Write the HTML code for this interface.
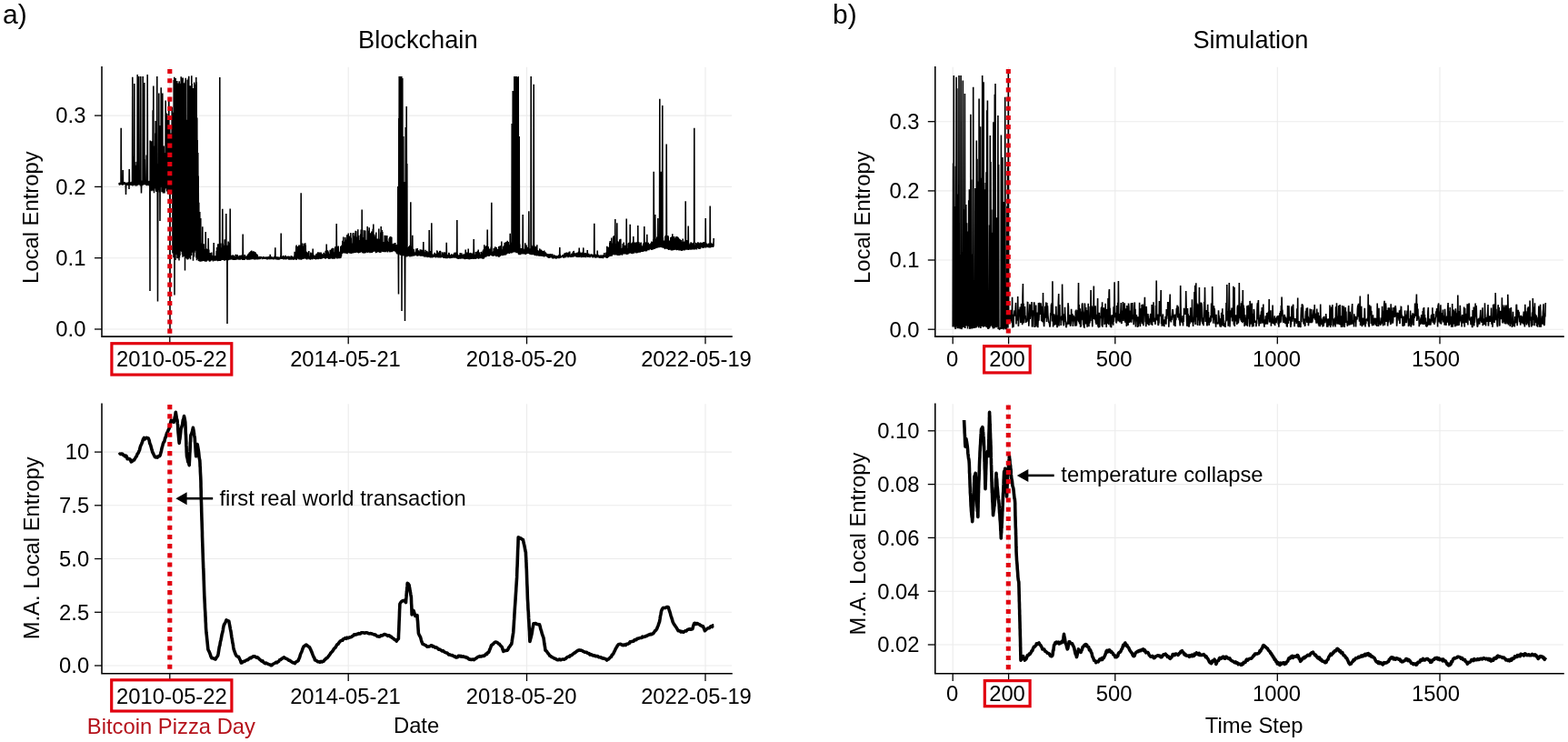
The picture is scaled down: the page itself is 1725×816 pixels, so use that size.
<!DOCTYPE html>
<html><head><meta charset="utf-8"><title>Local Entropy: Blockchain vs Simulation</title>
<style>html,body{margin:0;padding:0;background:#fff;overflow:hidden}svg{display:block}</style>
</head><body>
<svg width="1725" height="816" viewBox="0 0 1725 816" font-family='"Liberation Sans", Arial, Helvetica, sans-serif'>
<rect width="1725" height="816" fill="#fff"/>
<line x1="112.8" y1="362" x2="805" y2="362" stroke="#ebebeb" stroke-width="1.1"/>
<line x1="112.8" y1="283.7" x2="805" y2="283.7" stroke="#ebebeb" stroke-width="1.1"/>
<line x1="112.8" y1="205.4" x2="805" y2="205.4" stroke="#ebebeb" stroke-width="1.1"/>
<line x1="112.8" y1="127.1" x2="805" y2="127.1" stroke="#ebebeb" stroke-width="1.1"/>
<line x1="186.8" y1="73.8" x2="186.8" y2="369.3" stroke="#ebebeb" stroke-width="1.1"/>
<line x1="383.2" y1="73.8" x2="383.2" y2="369.3" stroke="#ebebeb" stroke-width="1.1"/>
<line x1="579.5" y1="73.8" x2="579.5" y2="369.3" stroke="#ebebeb" stroke-width="1.1"/>
<line x1="776" y1="73.8" x2="776" y2="369.3" stroke="#ebebeb" stroke-width="1.1"/>
<line x1="112.8" y1="732" x2="805" y2="732" stroke="#ebebeb" stroke-width="1.1"/>
<line x1="112.8" y1="673.3" x2="805" y2="673.3" stroke="#ebebeb" stroke-width="1.1"/>
<line x1="112.8" y1="614.5" x2="805" y2="614.5" stroke="#ebebeb" stroke-width="1.1"/>
<line x1="112.8" y1="555.8" x2="805" y2="555.8" stroke="#ebebeb" stroke-width="1.1"/>
<line x1="112.8" y1="497.1" x2="805" y2="497.1" stroke="#ebebeb" stroke-width="1.1"/>
<line x1="186.8" y1="444.3" x2="186.8" y2="740" stroke="#ebebeb" stroke-width="1.1"/>
<line x1="383.2" y1="444.3" x2="383.2" y2="740" stroke="#ebebeb" stroke-width="1.1"/>
<line x1="579.5" y1="444.3" x2="579.5" y2="740" stroke="#ebebeb" stroke-width="1.1"/>
<line x1="776" y1="444.3" x2="776" y2="740" stroke="#ebebeb" stroke-width="1.1"/>
<line x1="1029.6" y1="362.2" x2="1720" y2="362.2" stroke="#ebebeb" stroke-width="1.1"/>
<line x1="1029.6" y1="286" x2="1720" y2="286" stroke="#ebebeb" stroke-width="1.1"/>
<line x1="1029.6" y1="209.9" x2="1720" y2="209.9" stroke="#ebebeb" stroke-width="1.1"/>
<line x1="1029.6" y1="133.7" x2="1720" y2="133.7" stroke="#ebebeb" stroke-width="1.1"/>
<line x1="1048.2" y1="73.8" x2="1048.2" y2="369.3" stroke="#ebebeb" stroke-width="1.1"/>
<line x1="1109.6" y1="73.8" x2="1109.6" y2="369.3" stroke="#ebebeb" stroke-width="1.1"/>
<line x1="1226.8" y1="73.8" x2="1226.8" y2="369.3" stroke="#ebebeb" stroke-width="1.1"/>
<line x1="1405.3" y1="73.8" x2="1405.3" y2="369.3" stroke="#ebebeb" stroke-width="1.1"/>
<line x1="1584" y1="73.8" x2="1584" y2="369.3" stroke="#ebebeb" stroke-width="1.1"/>
<line x1="1029.6" y1="709" x2="1720" y2="709" stroke="#ebebeb" stroke-width="1.1"/>
<line x1="1029.6" y1="650.2" x2="1720" y2="650.2" stroke="#ebebeb" stroke-width="1.1"/>
<line x1="1029.6" y1="591.4" x2="1720" y2="591.4" stroke="#ebebeb" stroke-width="1.1"/>
<line x1="1029.6" y1="532.6" x2="1720" y2="532.6" stroke="#ebebeb" stroke-width="1.1"/>
<line x1="1029.6" y1="473.8" x2="1720" y2="473.8" stroke="#ebebeb" stroke-width="1.1"/>
<line x1="1048.2" y1="444.3" x2="1048.2" y2="740" stroke="#ebebeb" stroke-width="1.1"/>
<line x1="1109.6" y1="444.3" x2="1109.6" y2="740" stroke="#ebebeb" stroke-width="1.1"/>
<line x1="1226.8" y1="444.3" x2="1226.8" y2="740" stroke="#ebebeb" stroke-width="1.1"/>
<line x1="1405.3" y1="444.3" x2="1405.3" y2="740" stroke="#ebebeb" stroke-width="1.1"/>
<line x1="1584" y1="444.3" x2="1584" y2="740" stroke="#ebebeb" stroke-width="1.1"/>
<polyline fill="none" stroke="#000" stroke-width="1.55" stroke-linejoin="miter" stroke-miterlimit="2" points="131,202.9 131.2,201.1 131.5,203.7 131.8,200.9 132,203 132.2,201.2 132.5,202.5 132.8,201 133,203.2 133.2,140.7 133.5,202.4 133.8,200.6 134,202.3 134.2,201.6 134.5,203.3 134.8,200.1 135,203.8 135.2,187 135.5,203.2 135.8,201.2 136,202.5 136.2,200 136.5,203 136.8,200.1 137,202.5 137.2,200.5 137.5,202.2 137.8,200.9 138,202.9 138.2,201.7 138.5,214 138.8,201.3 139,203 139.2,201.3 139.5,202.9 139.8,200.6 140,203.8 140.2,202 140.5,203.5 140.8,201.4 141,202.7 141.2,200.5 141.5,202.7 141.8,200.1 142,208 142.2,186 142.5,203.6 142.8,200.8 143,203.7 143.2,201.7 143.5,202.2 143.8,200.4 144,203.7 144.2,200.9 144.5,203.8 144.8,200.8 145,202.2 145.2,199.6 145.5,202.7 145.8,84.8 146,204.4 146.2,198.2 146.5,202.6 146.8,171.8 147,204 147.2,186.8 147.5,203.1 147.8,91.9 148,202.3 148.2,198.2 148.5,203.1 148.8,178.1 149,204.4 149.2,198.6 149.5,204.2 149.8,181.8 150,204.1 150.2,198.2 150.5,204.5 150.8,177.7 151,203.9 151.2,82.1 151.5,202.2 151.8,187.5 152,202.6 152.2,198.7 152.5,203.1 152.8,83.9 153,203.4 153.2,198.4 153.5,202.4 153.8,199.6 154,202.6 154.2,192.2 154.5,204.4 154.8,83.9 155,204.2 155.2,198.8 155.5,212.6 155.8,198.9 156,202.6 156.2,198.5 156.5,204.1 156.8,198.6 157,202.4 157.2,83.9 157.5,202.6 157.8,199.7 158,203.5 158.2,197.5 158.5,202.5 158.8,91 159,203.1 159.2,175.3 159.5,202.9 159.8,198.3 160,202.9 160.2,200 160.5,203.6 160.8,199.2 161,202.4 161.2,170.5 161.5,204.3 161.8,199.9 162,202.1 162.2,82.1 162.5,203.8 162.8,200 163,202.2 163.2,199.5 163.5,204.3 163.8,199.4 164,204 164.2,198.7 164.5,203.7 164.8,199.7 165,319.9 165.2,154.5 165.5,208.7 165.8,177.2 166,208.8 166.2,163.6 166.5,209.4 166.8,155.2 167,210.3 167.2,193.1 167.5,208.8 167.8,197.7 168,203.8 168.2,121.2 168.5,209 168.8,94.5 169,210 169.2,187.7 169.5,212.2 169.8,160.5 170,206 170.2,169.1 170.5,204.7 170.8,146.4 171,207.4 171.2,133.1 171.5,209.7 171.8,179.4 172,211.1 172.2,155.2 172.5,206.8 172.8,83.9 173,204.4 173.2,197.7 173.5,331.5 173.8,202.8 174,205.8 174.2,180.3 174.5,205.8 174.8,102.5 175,209.3 175.2,174.2 175.5,211.4 175.8,138.1 176,243 176.2,199.3 176.5,203.4 176.8,185.7 177,206.1 177.2,96.3 177.5,204.4 177.8,161.1 178,211.3 178.2,166.3 178.5,203.5 178.8,102.5 179,209.3 179.2,196.3 179.5,212.6 179.8,169 180,207.8 180.2,160.5 180.5,207.7 180.8,168.1 181,212.6 181.2,191.4 181.5,208.2 181.8,194 182,206.9 182.2,110.5 182.5,203.9 182.8,148.9 183,206.2 183.2,124.5 183.5,210.6 183.8,154.1 184,208.4 184.2,132 184.5,212.9 184.8,146.8 185,213.5 185.2,125.1 185.5,210.9 185.8,108.3 186,211.5 186.2,148.2 186.5,210.8 186.8,141.6 187,364 187.2,153.5 187.5,213.8 187.8,158.5 188,209.8 188.2,146.4 188.5,207.9 188.8,154.1 189,212.7 189.2,117.7 189.5,205.7 189.8,123.7 190,278.5 190.2,129.2 190.5,268.5 190.8,166.4 191,283.2 191.2,88 191.5,283 191.8,84.7 192,324.5 192.2,150.4 192.5,281.1 192.8,209.3 193,286 193.2,86 193.5,278 193.8,95.1 194,280.1 194.2,97.2 194.5,278.6 194.8,88.9 195,284.1 195.2,180.8 195.5,284.2 195.8,212.4 196,278.9 196.2,91.6 196.5,277.6 196.8,101.7 197,286.4 197.2,89.2 197.5,283.2 197.8,129.5 198,281.1 198.2,91.7 198.5,275.9 198.8,252.3 199,273.1 199.2,84.3 199.5,276.2 199.8,250.1 200,277.1 200.2,85.4 200.5,279.7 200.8,172.9 201,282.8 201.2,85.5 201.5,272.3 201.8,119.3 202,274.8 202.2,106.3 202.5,281.9 202.8,91.2 203,272.8 203.2,91.5 203.5,297.5 203.8,89.4 204,278.1 204.2,85.7 204.5,280 204.8,131.8 205,284.2 205.2,151.4 205.5,272.4 205.8,148.6 206,285.2 206.2,87.7 206.5,285.5 206.8,100 207,284.9 207.2,86.3 207.5,281.8 207.8,83.7 208,283.8 208.2,96.2 208.5,270.4 208.8,94.3 209,268.3 209.2,94.3 209.5,285.3 209.8,171.5 210,277.6 210.2,130.2 210.5,281 210.8,83.3 211,270 211.2,91.9 211.5,277.8 211.8,108.8 212,271.5 212.2,97.1 212.5,286.8 212.8,169.5 213,269.2 213.2,206.2 213.5,282.5 213.8,90.4 214,277.8 214.2,92.8 214.5,268.3 214.8,150.7 215,271.4 215.2,95.3 215.5,275.7 215.8,85 216,283.6 216.2,90.3 216.5,286.3 216.8,129.4 217,284.9 217.2,153.9 217.5,284.4 217.8,168.1 218,284.2 218.2,193.4 218.5,286.9 218.8,222.8 219,286.5 219.2,263.4 219.5,287.5 219.8,233 220,287.6 220.2,273.1 220.5,287.7 220.8,240 221,287.3 221.2,267.6 221.5,287.5 221.8,274.1 222,287.4 222.2,282.5 222.5,286.6 222.8,249.2 223,285.9 223.2,275.9 223.5,287.1 223.8,271.9 224,286.3 224.2,268.3 224.5,287.2 224.8,277.1 225,287.1 225.2,273.9 225.5,286.9 225.8,276.9 226,287.8 226.2,255 226.5,287.2 226.8,272.9 227,287.7 227.2,285.1 227.5,287 227.8,274.1 228,286.2 228.2,278.3 228.5,285.8 228.8,281.4 229,286.4 229.2,262 229.5,286.2 229.8,274.6 230,286.8 230.2,278.5 230.5,287.6 230.8,278.3 231,287.6 231.2,278.1 231.5,287.2 231.8,284.4 232,286.8 232.2,278.1 232.5,285.7 232.8,277.6 233,285.9 233.2,280.9 233.5,285.9 233.8,281.1 234,286.8 234.2,285.1 234.5,287.4 234.8,282.3 235,286.6 235.2,267 235.5,286.2 235.8,283.4 236,286.7 236.2,281.9 236.5,286 236.8,281.2 237,286 237.2,285.9 237.5,285.8 237.8,284.9 238,285.6 238.2,275.9 238.5,286 238.8,272 239,286.7 239.2,283.2 239.5,287.2 239.8,268.2 240,285.3 240.2,268.2 240.5,286 240.8,273.7 241,287 241.2,277.6 241.5,286.1 241.8,85 242,286.5 242.2,273 242.5,287 242.8,267.4 243,286.2 243.2,280.1 243.5,286.2 243.8,272.3 244,285.3 244.2,282.1 244.5,285.9 244.8,229.7 245,285.7 245.2,267.8 245.5,285.7 245.8,275.3 246,285.9 246.2,271.7 246.5,286.3 246.8,269.7 247,286.7 247.2,263.3 247.5,286.1 247.8,276.1 248,284.9 248.2,264.8 248.5,286.2 248.8,235 249,285.3 249.2,275.7 249.5,285.9 249.8,270.5 250,355.9 250.2,269.7 250.5,286 250.8,277.9 251,285 251.2,265.6 251.5,286.3 251.8,267.1 252,284.5 252.2,281.8 252.5,285 252.8,275.9 253,285.7 253.2,229.4 253.5,285.5 253.8,283.5 254,284.6 254.2,280.9 254.5,285.5 254.8,281.1 255,285.1 255.2,281.7 255.5,284.8 255.8,282.4 256,285.8 256.2,280.3 256.5,284.5 256.8,283.8 257,285.9 257.2,281.1 257.5,285.8 257.8,283.1 258,285.1 258.2,282.8 258.5,285.9 258.8,282.2 259,285.6 259.2,279.7 259.5,284.9 259.8,281.4 260,285.7 260.2,280 260.5,285.1 260.8,282.2 261,284.4 261.2,280.1 261.5,284.4 261.8,284 262,285.3 262.2,281.6 262.5,285.5 262.8,282.5 263,285.7 263.2,284 263.5,284.6 263.8,280.9 264,284.3 264.2,282.5 264.5,285.6 264.8,280.8 265,284.7 265.2,283.4 265.5,284.8 265.8,280.6 266,284.8 266.2,283.6 266.5,285.5 266.8,281.2 267,285.9 267.2,257.6 267.5,285.9 267.8,281.8 268,285.6 268.2,282.4 268.5,284.6 268.8,281.9 269,285.9 269.2,280 269.5,284.5 269.8,282.1 270,284.7 270.2,282.1 270.5,284.7 270.8,282 271,284.3 271.2,281.2 271.5,285.5 271.8,281.3 272,285.6 272.2,281.2 272.5,284.3 272.8,279.5 273,285.7 273.2,281.4 273.5,283.9 273.8,279 274,285 274.2,277.8 274.5,285.8 274.8,277.2 275,285.4 275.2,282.9 275.5,284.9 275.8,276.3 276,284 276.2,282.6 276.5,285.3 276.8,275.6 277,284 277.2,277.3 277.5,284.1 277.8,276.6 278,285.1 278.2,280.6 278.5,284.2 278.8,276.4 279,284.8 279.2,276.4 279.5,284.5 279.8,279.7 280,285.6 280.2,277.1 280.5,284.7 280.8,278 281,285.1 281.2,277.5 281.5,285.5 281.8,280.1 282,285.3 282.2,279.4 282.5,285.3 282.8,279.7 283,285.3 283.2,280.3 283.5,285.5 283.8,281.9 284,284.6 284.2,282.6 284.5,285.2 284.8,283.1 285,284.5 285.2,283.8 285.5,285.1 285.8,282.1 286,284.4 286.2,283.8 286.5,284 286.8,283.1 287,284.2 287.2,282.1 287.5,283.8 287.8,283.4 288,283.9 288.2,282.7 288.5,285.2 288.8,283.7 289,283.8 289.2,283.1 289.5,284.8 289.8,282.2 290,283.7 290.2,284 290.5,284 290.8,283.6 291,284.1 291.2,282.6 291.5,284.9 291.8,283.6 292,284.1 292.2,283.5 292.5,284 292.8,282.5 293,284.3 293.2,282.9 293.5,285.3 293.8,283 294,284.2 294.2,282.3 294.5,285.5 294.8,283.3 295,284.8 295.2,282.2 295.5,284.7 295.8,283.7 296,283.8 296.2,282.2 296.5,285.3 296.8,283.2 297,284.8 297.2,279.7 297.5,284.3 297.8,282.1 298,285.1 298.2,283.6 298.5,283.8 298.8,283.1 299,284.5 299.2,282.4 299.5,285.2 299.8,282.8 300,284.1 300.2,283.9 300.5,284.4 300.8,283.5 301,285.5 301.2,282.9 301.5,285.1 301.8,281.9 302,284.3 302.2,282.8 302.5,284.1 302.8,272.3 303,283.8 303.2,282.1 303.5,285.5 303.8,282.1 304,284 304.2,283.4 304.5,285.2 304.8,284 305,284.8 305.2,282.8 305.5,285.7 305.8,282.4 306,285.5 306.2,283.2 306.5,285.4 306.8,282.8 307,285.7 307.2,284 307.5,285.5 307.8,283.5 308,284.9 308.2,282.5 308.5,284.2 308.8,281.7 309,284.5 309.2,256.4 309.5,284 309.8,283.1 310,284.8 310.2,281.8 310.5,284.6 310.8,281.9 311,284.1 311.2,282.7 311.5,284.8 311.8,281.1 312,285.5 312.2,281.9 312.5,283.9 312.8,282.7 313,285.3 313.2,283.2 313.5,285 313.8,282.4 314,283.9 314.2,280.8 314.5,285.5 314.8,283.3 315,285.2 315.2,282.9 315.5,284.7 315.8,282 316,284.5 316.2,282.7 316.5,284.7 316.8,281.5 317,284.5 317.2,283.3 317.5,285.4 317.8,282.7 318,285.8 318.2,281.8 318.5,285.4 318.8,282.6 319,285.6 319.2,283.9 319.5,284.2 319.8,283.8 320,285.3 320.2,281.2 320.5,284.3 320.8,282.2 321,285.7 321.2,281.5 321.5,284.2 321.8,283 322,284.3 322.2,283.6 322.5,284.8 322.8,284 323,285.8 323.2,282 323.5,285 323.8,281.1 324,285.5 324.2,276.7 324.5,284.7 324.8,277.9 325,284.8 325.2,283.5 325.5,284.7 325.8,270.5 326,285.9 326.2,269.4 326.5,285.2 326.8,271.6 327,283.9 327.2,275.7 327.5,284.5 327.8,271.1 328,284.1 328.2,274.9 328.5,284.8 328.8,269.4 329,285.5 329.2,271.6 329.5,284.1 329.8,269.6 330,285.6 330.2,272.4 330.5,284.5 330.8,273 331,284 331.2,212.3 331.5,285.7 331.8,272.8 332,285.2 332.2,268.8 332.5,284.1 332.8,267.6 333,284.9 333.2,278 333.5,283.8 333.8,277.1 334,284.8 334.2,270.4 334.5,284.3 334.8,267.8 335,284.4 335.2,273.5 335.5,283.9 335.8,267.3 336,283.9 336.2,269.6 336.5,284.7 336.8,276.4 337,284.7 337.2,281.3 337.5,285.4 337.8,277.2 338,285.2 338.2,279.1 338.5,283.8 338.8,278 339,284.2 339.2,277.7 339.5,284.1 339.8,276 340,285.3 340.2,281.9 340.5,284.7 340.8,283 341,283.7 341.2,282 341.5,285.6 341.8,277.5 342,284.9 342.2,281 342.5,284.9 342.8,278.4 343,284.4 343.2,279.2 343.5,285.2 343.8,284 344,284 344.2,273.5 344.5,283.9 344.8,280.4 345,284.7 345.2,282 345.5,284.6 345.8,281.3 346,284.7 346.2,280.8 346.5,284.9 346.8,283.6 347,284.9 347.2,282.3 347.5,285.5 347.8,279.2 348,284.5 348.2,280.3 348.5,284.8 348.8,278.7 349,285.1 349.2,278.4 349.5,284.6 349.8,277.2 350,285.3 350.2,277.9 350.5,284.4 350.8,280.1 351,284.7 351.2,277.6 351.5,284.7 351.8,279.6 352,284.5 352.2,277.6 352.5,284.1 352.8,283.2 353,284.8 353.2,277.6 353.5,284.6 353.8,279 354,284.5 354.2,280.7 354.5,284.2 354.8,282.6 355,283.2 355.2,279.6 355.5,284 355.8,279.8 356,283.1 356.2,277.9 356.5,284 356.8,280.7 357,283.6 357.2,279.4 357.5,283.4 357.8,282.3 358,284.8 358.2,275.8 358.5,284.3 358.8,276.1 359,283.8 359.2,268.6 359.5,283.4 359.8,276.4 360,284.1 360.2,275.3 360.5,283.1 360.8,275.8 361,283.2 361.2,277.4 361.5,284.8 361.8,283.8 362,283.4 362.2,279.1 362.5,283.6 362.8,282 363,284.7 363.2,274.8 363.5,283.7 363.8,278.2 364,284.1 364.2,282.2 364.5,283 364.8,273.6 365,283.5 365.2,276.5 365.5,284.8 365.8,272.7 366,283.8 366.2,279.4 366.5,283.5 366.8,272.7 367,284.7 367.2,279.4 367.5,284.5 367.8,277.3 368,283.8 368.2,279.6 368.5,284.6 368.8,271.3 369,283.3 369.2,274.2 369.5,283.2 369.8,271.8 370,282.9 370.2,246 370.5,284.3 370.8,277.2 371,284.6 371.2,271.3 371.5,284.3 371.8,279.7 372,284.2 372.2,270.4 372.5,283.7 372.8,280.7 373,283.3 373.2,276.7 373.5,284.2 373.8,278.3 374,283.2 374.2,277.6 374.5,284.1 374.8,270.8 375,283.5 375.2,271.9 375.5,281.9 375.8,269.8 376,277.9 376.2,270.7 376.5,279.2 376.8,264.8 377,277.9 377.2,264.8 377.5,277.5 377.8,260.4 378,278.2 378.2,265.7 378.5,278.4 378.8,275.4 379,278.5 379.2,269.2 379.5,277.8 379.8,261 380,277.4 380.2,268.8 380.5,278.8 380.8,269.4 381,277.8 381.2,263.6 381.5,277.6 381.8,258.2 382,279.2 382.2,275.4 382.5,278.1 382.8,259.5 383,277.9 383.2,256.6 383.5,278.2 383.8,269.9 384,278.2 384.2,260.2 384.5,277.8 384.8,259.6 385,278.7 385.2,261.8 385.5,278.1 385.8,256 386,278.4 386.2,261.5 386.5,279 386.8,269.4 387,278.6 387.2,269.6 387.5,278.2 387.8,267.5 388,277.9 388.2,256.4 388.5,278.6 388.8,255.9 389,277.4 389.2,261.3 389.5,277.4 389.8,259.4 390,277.9 390.2,274.5 390.5,278.1 390.8,256.6 391,278.1 391.2,253.7 391.5,277.3 391.8,269.4 392,276.9 392.2,260.4 392.5,277.7 392.8,261.5 393,277.4 393.2,254.3 393.5,277 393.8,252.2 394,277.9 394.2,258.9 394.5,278.4 394.8,266.2 395,277.1 395.2,264.1 395.5,276.8 395.8,263.9 396,278 396.2,258.7 396.5,277.3 396.8,257.2 397,276.9 397.2,252.5 397.5,277 397.8,265.1 398,277 398.2,230.6 398.5,278.3 398.8,252.8 399,276.8 399.2,260.9 399.5,277.4 399.8,266.2 400,278.6 400.2,273.3 400.5,277.6 400.8,253.3 401,278.6 401.2,268.6 401.5,277.5 401.8,253.6 402,276.6 402.2,265.4 402.5,278.3 402.8,268.7 403,277.3 403.2,263.7 403.5,277.3 403.8,271.4 404,276.6 404.2,249.1 404.5,278 404.8,253.8 405,276.9 405.2,265 405.5,277.5 405.8,265.3 406,277.3 406.2,250.2 406.5,277.1 406.8,262.6 407,278.3 407.2,256.3 407.5,276.4 407.8,260.9 408,277.7 408.2,272.2 408.5,277 408.8,254.6 409,278 409.2,256.7 409.5,278.1 409.8,259.5 410,277.1 410.2,251.8 410.5,277 410.8,246.6 411,276.7 411.2,262.4 411.5,276.6 411.8,257.7 412,276.5 412.2,266.5 412.5,276.6 412.8,259.7 413,276.8 413.2,260.2 413.5,278.2 413.8,255.4 414,277.9 414.2,266.6 414.5,276.9 414.8,271.5 415,277.5 415.2,262.4 415.5,276.7 415.8,274.6 416,276.5 416.2,265.1 416.5,276.9 416.8,251.6 417,277.5 417.2,265 417.5,276.8 417.8,268.4 418,277.9 418.2,262.8 418.5,277.5 418.8,255.4 419,277.8 419.2,249 419.5,276.6 419.8,262.3 420,276.1 420.2,253 420.5,276.6 420.8,254.9 421,277 421.2,272.4 421.5,276.7 421.8,266.1 422,276 422.2,268.7 422.5,277.1 422.8,273.7 423,276.5 423.2,258.8 423.5,276.9 423.8,269.7 424,277.2 424.2,266.5 424.5,277.3 424.8,259 425,276.1 425.2,268.2 425.5,276.3 425.8,259.1 426,276.6 426.2,264.8 426.5,277.5 426.8,268.3 427,276.3 427.2,266.1 427.5,276.1 427.8,273.9 428,275.7 428.2,262.3 428.5,276.8 428.8,260.4 429,277.6 429.2,268 429.5,277 429.8,260.1 430,276.1 430.2,263.1 430.5,276.9 430.8,260.7 431,277.3 431.2,270 431.5,276.8 431.8,273 432,276.4 432.2,268.2 432.5,275.7 432.8,268.6 433,276.2 433.2,267.6 433.5,276.1 433.8,272.2 434,276.3 434.2,268.4 434.5,276.3 434.8,267 435,276.8 435.2,274.3 435.5,277.4 435.8,270.2 436,277.5 436.2,268.9 436.5,279 436.8,269.6 437,279.4 437.2,277.7 437.5,278.9 437.8,205 438,278.4 438.2,271.7 438.5,323.6 438.8,130 439,279.7 439.2,83.9 439.5,279.3 439.8,273.9 440,278.8 440.2,84 440.5,280.7 440.8,270.5 441,279.5 441.2,90 441.5,279.5 441.8,83.9 442,342 442.2,267.3 442.5,280.1 442.8,86 443,281.4 443.2,269 443.5,280.9 443.8,150 444,280.6 444.2,272.7 444.5,280.4 444.8,200 445,281.7 445.2,273.3 445.5,353 445.8,279.2 446,280.5 446.2,140 446.5,281 446.8,273.9 447,282.4 447.2,116.9 447.5,281 447.8,180 448,282.1 448.2,275.9 448.5,280.8 448.8,272.1 449,281.5 449.2,275.9 449.5,281.7 449.8,271.1 450,281.7 450.2,271.4 450.5,281.7 450.8,269.7 451,282.5 451.2,274.8 451.5,281.2 451.8,222.3 452,281.1 452.2,271.4 452.5,281.8 452.8,271.9 453,282.3 453.2,271 453.5,280.7 453.8,258.8 454,281.3 454.2,273.5 454.5,281 454.8,276.2 455,281.7 455.2,274.1 455.5,280.6 455.8,276.8 456,280.8 456.2,277.7 456.5,281.1 456.8,278.3 457,280.2 457.2,279.2 457.5,280.2 457.8,273.6 458,280.2 458.2,275.4 458.5,281.5 458.8,275.3 459,280.2 459.2,273 459.5,281.6 459.8,279.4 460,280.3 460.2,275.3 460.5,281.3 460.8,276.2 461,281.1 461.2,277.3 461.5,281.2 461.8,276.9 462,280.5 462.2,274.4 462.5,281.6 462.8,274.2 463,281.2 463.2,276.6 463.5,281.5 463.8,275.5 464,281.8 464.2,274.8 464.5,280.5 464.8,277.2 465,281.7 465.2,278.4 465.5,280.8 465.8,266.1 466,281.7 466.2,274.7 466.5,282.5 466.8,279.5 467,282 467.2,277.4 467.5,282 467.8,277.6 468,282.7 468.2,274.7 468.5,281 468.8,276 469,281.2 469.2,280.9 469.5,281.6 469.8,276 470,283.1 470.2,280 470.5,281.8 470.8,281.3 471,282.3 471.2,277.4 471.5,282.1 471.8,278.6 472,282.9 472.2,253.1 472.5,281.9 472.8,278.1 473,282.6 473.2,276 473.5,283.4 473.8,278.2 474,282.8 474.2,277.3 474.5,283.1 474.8,245.3 475,281.8 475.2,280.5 475.5,283.4 475.8,279.3 476,282.5 476.2,280.5 476.5,282.2 476.8,281.9 477,282.7 477.2,280.3 477.5,282.8 477.8,279.2 478,282.1 478.2,277.9 478.5,282.4 478.8,279.4 479,281.8 479.2,281.3 479.5,283.5 479.8,279.1 480,281.9 480.2,280.1 480.5,282.7 480.8,275.4 481,282.2 481.2,276.1 481.5,282.8 481.8,278.5 482,283.4 482.2,278.6 482.5,282 482.8,277.8 483,283.2 483.2,277.4 483.5,282.4 483.8,276 484,283.6 484.2,275.8 484.5,282.8 484.8,276.6 485,283.4 485.2,280.5 485.5,282 485.8,280.6 486,282.2 486.2,281.5 486.5,282.7 486.8,277.2 487,282.7 487.2,278.5 487.5,282.1 487.8,280.4 488,284 488.2,282.6 488.5,283.2 488.8,277.2 489,283.7 489.2,277.6 489.5,283 489.8,277.4 490,283.9 490.2,277.6 490.5,284.2 490.8,281.6 491,284.1 491.2,266.7 491.5,283.7 491.8,280.5 492,284.1 492.2,282.6 492.5,283.5 492.8,280.7 493,283.1 493.2,279.9 493.5,283.7 493.8,277.8 494,283.1 494.2,278.6 494.5,283.1 494.8,280.5 495,284.3 495.2,280.3 495.5,282.7 495.8,280.3 496,284 496.2,281.1 496.5,284 496.8,279.3 497,283.9 497.2,281.4 497.5,282.8 497.8,281.7 498,283.3 498.2,280 498.5,282.7 498.8,279.6 499,283.5 499.2,280.6 499.5,283.8 499.8,277.8 500,283.1 500.2,278 500.5,283.4 500.8,278.6 501,283 501.2,277.6 501.5,283.7 501.8,277.7 502,283.3 502.2,280.2 502.5,284.3 502.8,242.1 503,283.4 503.2,278.9 503.5,284.8 503.8,280.7 504,283.3 504.2,280.5 504.5,284.9 504.8,281.9 505,284.2 505.2,280.4 505.5,284.3 505.8,281.5 506,284.3 506.2,278 506.5,284.8 506.8,279.2 507,284.1 507.2,279.5 507.5,283.3 507.8,278.3 508,284.5 508.2,280.1 508.5,284.5 508.8,280.3 509,284 509.2,281.5 509.5,284.4 509.8,279.5 510,284.3 510.2,283.4 510.5,284.5 510.8,280.2 511,284.5 511.2,279.4 511.5,285.2 511.8,282.2 512,284.3 512.2,274.5 512.5,284.8 512.8,281 513,284.9 513.2,277.6 513.5,284.2 513.8,278.1 514,283.6 514.2,277.5 514.5,284.3 514.8,281.4 515,285 515.2,273.4 515.5,285.2 515.8,278 516,284.9 516.2,279.6 516.5,285.3 516.8,282.9 517,285 517.2,278.4 517.5,283.8 517.8,277.9 518,284.2 518.2,279.2 518.5,285 518.8,281.5 519,283.8 519.2,278.5 519.5,283.4 519.8,279 520,284.8 520.2,279.3 520.5,283.7 520.8,277.5 521,284.9 521.2,263 521.5,284.3 521.8,276.9 522,284.8 522.2,281.7 522.5,283.9 522.8,282.2 523,283.2 523.2,280 523.5,284.9 523.8,277 524,283.3 524.2,281.2 524.5,283.9 524.8,276.8 525,284.3 525.2,276.5 525.5,283.2 525.8,276 526,283.5 526.2,274.5 526.5,284.8 526.8,277.2 527,283.4 527.2,277.5 527.5,283.9 527.8,283.3 528,283.7 528.2,279.8 528.5,284.2 528.8,280.1 529,284.2 529.2,276.9 529.5,283.3 529.8,281.2 530,284.3 530.2,277.6 530.5,283.2 530.8,281 531,284.8 531.2,275.6 531.5,283.6 531.8,279.5 532,284.8 532.2,274 532.5,284.1 532.8,269.3 533,283 533.2,275.8 533.5,282.4 533.8,273 534,282.8 534.2,270.9 534.5,282.5 534.8,274.4 535,282.5 535.2,270.1 535.5,282 535.8,272.2 536,281.5 536.2,252.6 536.5,281.4 536.8,271 537,281.2 537.2,271.2 537.5,281.8 537.8,274.5 538,282 538.2,275.1 538.5,281.4 538.8,273.4 539,280.6 539.2,278.8 539.5,280.6 539.8,276.2 540,280.7 540.2,271.4 540.5,280.4 540.8,222.8 541,281.2 541.2,276.8 541.5,280.8 541.8,278.2 542,281.8 542.2,276.9 542.5,280.9 542.8,276.2 543,281.7 543.2,272.8 543.5,281.3 543.8,274.9 544,280.4 544.2,272.8 544.5,280.4 544.8,271.3 545,281.1 545.2,273.8 545.5,281.7 545.8,276.4 546,282.2 546.2,272 546.5,280.5 546.8,273.9 547,281.5 547.2,276 547.5,281.5 547.8,276.4 548,282 548.2,273.7 548.5,282.6 548.8,270.9 549,282.7 549.2,275.3 549.5,282.4 549.8,272.9 550,282.1 550.2,270.2 550.5,280.7 550.8,274.2 551,281.2 551.2,272.3 551.5,280.7 551.8,265.6 552,280.5 552.2,274.6 552.5,280.2 552.8,274.2 553,281.3 553.2,278.1 553.5,280 553.8,271.4 554,280.7 554.2,270.5 554.5,279.8 554.8,269.7 555,280.7 555.2,266.7 555.5,279.3 555.8,271.7 556,278.9 556.2,267.2 556.5,280.6 556.8,266.1 557,278.6 557.2,271.4 557.5,279.5 557.8,268.4 558,278.5 558.2,264.7 558.5,278.8 558.8,267.4 559,278.2 559.2,265.9 559.5,278.1 559.8,274.4 560,278.7 560.2,269.2 560.5,279.1 560.8,270.2 561,278.1 561.2,256.7 561.5,277.5 561.8,266.8 562,278 562.2,266.9 562.5,278.4 562.8,273.3 563,278.2 563.2,136 563.5,278.2 563.8,266.6 564,276.9 564.2,100 564.5,277.6 564.8,262.6 565,276.5 565.2,275.8 565.5,276.1 565.8,84 566,277.5 566.2,265.9 566.5,276.6 566.8,83.9 567,276.5 567.2,273.9 567.5,277.3 567.8,264.9 568,278.3 568.2,83.9 568.5,277.3 568.8,270.6 569,277.6 569.2,85 569.5,277.9 569.8,266.8 570,278.6 570.2,83.9 570.5,279.5 570.8,267.8 571,280.3 571.2,150 571.5,279.7 571.8,268.4 572,279.4 572.2,274 572.5,280.1 572.8,274.6 573,279.3 573.2,273.1 573.5,279.4 573.8,273.9 574,279.3 574.2,273.2 574.5,278.5 574.8,270.3 575,278.5 575.2,235.9 575.5,279.4 575.8,273.5 576,278.7 576.2,276.7 576.5,278.9 576.8,274.2 577,279.1 577.2,275 577.5,279.6 577.8,267.2 578,278 578.2,273.4 578.5,279.9 578.8,278.5 579,279.1 579.2,269.5 579.5,278.6 579.8,271.8 580,278.5 580.2,274.2 580.5,279 580.8,271.9 581,278.4 581.2,272.5 581.5,278.9 581.8,232.2 582,278 582.2,276.6 582.5,278.5 582.8,274.6 583,279.7 583.2,273.2 583.5,279.9 583.8,273.5 584,278.9 584.2,83.9 584.5,278.6 584.8,269.4 585,280.2 585.2,274.3 585.5,279.2 585.8,270.5 586,280.3 586.2,271.7 586.5,278.9 586.8,270.9 587,279 587.2,92.8 587.5,280.1 587.8,269.8 588,280.4 588.2,279 588.5,281.1 588.8,271.2 589,280.5 589.2,279.8 589.5,280.9 589.8,274.4 590,280.9 590.2,270.7 590.5,281.4 590.8,269.3 591,281.3 591.2,275 591.5,281.3 591.8,275.8 592,280.8 592.2,275.6 592.5,280.2 592.8,276.7 593,281.6 593.2,279.4 593.5,280.4 593.8,273.4 594,281.6 594.2,276 594.5,280.6 594.8,279.3 595,281.1 595.2,274.6 595.5,281.7 595.8,275.1 596,281.1 596.2,277.8 596.5,281.9 596.8,276.1 597,281.1 597.2,276.1 597.5,281.9 597.8,281.2 598,281.9 598.2,278.7 598.5,282.5 598.8,275.5 599,282.2 599.2,277.5 599.5,282 599.8,277.3 600,281.6 600.2,277.6 600.5,281.8 600.8,278.4 601,281.9 601.2,279.6 601.5,281.9 601.8,279.7 602,282.8 602.2,279.1 602.5,282.5 602.8,279 603,283.5 603.2,280 603.5,283.1 603.8,279.6 604,283.9 604.2,280.4 604.5,283.4 604.8,281 605,282.6 605.2,279.1 605.5,283.3 605.8,281.1 606,282.4 606.2,279.2 606.5,283.1 606.8,279.6 607,283.3 607.2,280.1 607.5,283.6 607.8,279.2 608,284.4 608.2,280.9 608.5,283.6 608.8,281.9 609,284.3 609.2,282.7 609.5,283.4 609.8,280.2 610,283 610.2,280.7 610.5,284 610.8,281.3 611,283.5 611.2,282.7 611.5,284.7 611.8,281 612,284.3 612.2,282.9 612.5,284.2 612.8,282.4 613,283 613.2,281.4 613.5,283.8 613.8,282.6 614,284 614.2,281.1 614.5,284.2 614.8,280.2 615,283.8 615.2,281.5 615.5,284.2 615.8,271.9 616,282.9 616.2,279.9 616.5,283.7 616.8,281.5 617,282.7 617.2,282.8 617.5,283.2 617.8,281.4 618,282.7 618.2,281.3 618.5,282.3 618.8,280.3 619,282.5 619.2,280.9 619.5,282.5 619.8,280 620,283.6 620.2,281.4 620.5,283.6 620.8,278.6 621,283 621.2,279.5 621.5,283.2 621.8,279.4 622,283 622.2,278 622.5,283.2 622.8,280.4 623,281.7 623.2,277.6 623.5,282.3 623.8,278 624,282 624.2,279.1 624.5,282.2 624.8,277.9 625,283.3 625.2,278.7 625.5,282.5 625.8,279.3 626,281.8 626.2,276.7 626.5,281.5 626.8,276.6 627,282.5 627.2,281 627.5,282.9 627.8,280.6 628,282.2 628.2,280.4 628.5,283 628.8,278.9 629,282.7 629.2,280.8 629.5,282.3 629.8,280.6 630,280.9 630.2,277.2 630.5,282.8 630.8,276.5 631,282.5 631.2,275.9 631.5,281.9 631.8,280.4 632,281.9 632.2,279.5 632.5,281.9 632.8,278.4 633,281.9 633.2,279.5 633.5,282.3 633.8,278.2 634,281.9 634.2,280.6 634.5,281.9 634.8,277.7 635,282.9 635.2,277.8 635.5,281.3 635.8,279.2 636,281.7 636.2,277.4 636.5,282.9 636.8,276.5 637,283 637.2,272.4 637.5,282.8 637.8,276.9 638,281.2 638.2,278.7 638.5,282.3 638.8,278 639,282.4 639.2,278.4 639.5,283.1 639.8,281.1 640,282.3 640.2,277.5 640.5,281.3 640.8,281 641,283 641.2,277.7 641.5,281.4 641.8,272.4 642,283 642.2,278.7 642.5,282.4 642.8,279.1 643,282.9 643.2,278.4 643.5,281.4 643.8,281.5 644,283 644.2,278.1 644.5,283.1 644.8,279.9 645,282.1 645.2,280.2 645.5,281.5 645.8,278.9 646,282.1 646.2,275 646.5,282.6 646.8,280.4 647,282.9 647.2,280 647.5,282.1 647.8,278.9 648,282 648.2,281.3 648.5,282.2 648.8,280.1 649,283.2 649.2,280.7 649.5,282.2 649.8,279.7 650,282.2 650.2,280.2 650.5,282.3 650.8,279.3 651,282.1 651.2,281.2 651.5,282.4 651.8,280.9 652,283.3 652.2,280 652.5,283.4 652.8,280.4 653,282 653.2,279.9 653.5,282.3 653.8,245.8 654,282.7 654.2,279.5 654.5,282.6 654.8,281.1 655,283.7 655.2,279.7 655.5,282.7 655.8,282 656,283.5 656.2,280.2 656.5,282.6 656.8,280.3 657,282.7 657.2,275.5 657.5,283.2 657.8,280.5 658,283 658.2,280.4 658.5,282 658.8,281.1 659,282.8 659.2,282.5 659.5,283.9 659.8,282.2 660,282.5 660.2,280.6 660.5,284 660.8,280.6 661,282.8 661.2,280.7 661.5,282.4 661.8,281.1 662,284 662.2,282.2 662.5,282.4 662.8,280.8 663,283.9 663.2,280.2 663.5,284.1 663.8,280.6 664,282.9 664.2,281.9 664.5,282.8 664.8,278 665,282.4 665.2,281.1 665.5,282.9 665.8,282.2 666,282.9 666.2,280.7 666.5,282.5 666.8,278 667,283.4 667.2,277.4 667.5,283.8 667.8,270.8 668,283.9 668.2,280.6 668.5,282.2 668.8,280.3 669,282.1 669.2,271.7 669.5,283.1 669.8,273.1 670,281.3 670.2,274.4 670.5,281.9 670.8,266.7 671,282.1 671.2,264.9 671.5,281.2 671.8,268 672,281.7 672.2,269 672.5,280.1 672.8,261.4 673,281.6 673.2,278.4 673.5,281.2 673.8,267.6 674,279.7 674.2,272.6 674.5,279.9 674.8,259.7 675,279.9 675.2,278.1 675.5,279.9 675.8,258.9 676,280.4 676.2,261.7 676.5,280.3 676.8,241.1 677,279.4 677.2,269 677.5,279.4 677.8,270.2 678,280.5 678.2,268.1 678.5,280.2 678.8,245.3 679,279.8 679.2,268.8 679.5,280.9 679.8,265.3 680,279.9 680.2,266.3 680.5,280 680.8,270 681,280.9 681.2,272.1 681.5,280.9 681.8,263.2 682,280.7 682.2,273.9 682.5,279.9 682.8,262.7 683,279.4 683.2,274 683.5,280.3 683.8,273 684,280 684.2,274.6 684.5,280.6 684.8,272.6 685,278.9 685.2,268 685.5,279.3 685.8,269.7 686,279.6 686.2,266.6 686.5,279.5 686.8,272 687,278.4 687.2,270.6 687.5,278.9 687.8,269.8 688,279.6 688.2,270.9 688.5,278.4 688.8,270.5 689,279.1 689.2,240.6 689.5,280 689.8,273 690,278.9 690.2,276.1 690.5,279.6 690.8,273.5 691,279.5 691.2,267.6 691.5,278.3 691.8,266.8 692,278.8 692.2,271.1 692.5,278.8 692.8,266.4 693,278.6 693.2,246.8 693.5,278.1 693.8,267.2 694,278.5 694.2,271.9 694.5,277.8 694.8,273.5 695,279 695.2,267.5 695.5,279.2 695.8,266.6 696,278.6 696.2,267.5 696.5,278.5 696.8,259.9 697,278.7 697.2,273.8 697.5,278.6 697.8,272.1 698,277.4 698.2,266.6 698.5,276.9 698.8,269.9 699,277.5 699.2,267.5 699.5,277.9 699.8,266.6 700,278.5 700.2,268.7 700.5,276.7 700.8,268.5 701,276.7 701.2,266.1 701.5,278.2 701.8,247.9 702,276.7 702.2,268.2 702.5,277.8 702.8,266.1 703,277.5 703.2,274 703.5,277.6 703.8,275.1 704,277.8 704.2,267.6 704.5,277.5 704.8,266.9 705,277 705.2,266.4 705.5,277 705.8,269.7 706,276.4 706.2,270.9 706.5,275.5 706.8,273 707,277 707.2,272.1 707.5,276.6 707.8,267.5 708,276.5 708.2,269.3 708.5,275.6 708.8,248.9 709,275.3 709.2,268.3 709.5,276.2 709.8,266.3 710,275.3 710.2,266.4 710.5,276.4 710.8,271 711,276.3 711.2,268.4 711.5,276.2 711.8,257.8 712,274.9 712.2,270.9 712.5,275.1 712.8,269.2 713,274 713.2,266.8 713.5,274.9 713.8,269.2 714,275.2 714.2,270.9 714.5,274 714.8,268.3 715,274 715.2,269.7 715.5,273.5 715.8,272.7 716,274 716.2,267.1 716.5,275 716.8,265.6 717,273.8 717.2,267.2 717.5,273.4 717.8,266 718,274.7 718.2,270.1 718.5,273.5 718.8,262.9 719,274.1 719.2,188.7 719.5,273.7 719.8,259.3 720,274.1 720.2,266.6 720.5,273.2 720.8,235.9 721,273 721.2,267.4 721.5,273.3 721.8,270.1 722,271.9 722.2,262.4 722.5,272 722.8,260.6 723,272.7 723.2,265.1 723.5,272.6 723.8,240 724,272.3 724.2,263.2 724.5,271.6 724.8,268.2 725,271.5 725.2,258.4 725.5,272.2 725.8,108.8 726,270.5 726.2,265.3 726.5,271.9 726.8,263.3 727,271 727.2,188.7 727.5,272 727.8,260.3 728,271.9 728.2,261.2 728.5,272.6 728.8,115.9 729,271.5 729.2,260.7 729.5,271.8 729.8,270 730,272.7 730.2,271.5 730.5,272 730.8,264.4 731,273 731.2,269.2 731.5,274.1 731.8,259.4 732,273.4 732.2,262.2 732.5,273.2 732.8,258.2 733,273 733.2,158.5 733.5,273.4 733.8,259.3 734,274.1 734.2,264.7 734.5,274.1 734.8,259.1 735,273.9 735.2,260.2 735.5,274.9 735.8,264.4 736,274.3 736.2,264.6 736.5,274.4 736.8,266.4 737,274.8 737.2,265.1 737.5,274.2 737.8,260.9 738,274.5 738.2,264.5 738.5,275.4 738.8,264.8 739,274.4 739.2,259.9 739.5,275.6 739.8,257.3 740,274.5 740.2,262.5 740.5,275.2 740.8,267.3 741,275.1 741.2,259.9 741.5,275 741.8,262.8 742,274.6 742.2,263.1 742.5,274.2 742.8,262 743,274.8 743.2,260.2 743.5,274.4 743.8,262.8 744,273.8 744.2,266.2 744.5,275.3 744.8,259.9 745,275 745.2,269 745.5,274.6 745.8,260.7 746,274.2 746.2,261.5 746.5,274 746.8,264.7 747,275.5 747.2,262.4 747.5,274.7 747.8,264.9 748,275.3 748.2,263.3 748.5,275.4 748.8,265.2 749,274.4 749.2,264.1 749.5,275.1 749.8,265.7 750,275.9 750.2,271 750.5,275.5 750.8,268.3 751,275.4 751.2,262.4 751.5,274.5 751.8,265.9 752,274.9 752.2,266.8 752.5,274.2 752.8,265.7 753,275.6 753.2,265.5 753.5,274.3 753.8,264.5 754,274.5 754.2,221.3 754.5,274.8 754.8,267.7 755,274.6 755.2,263.9 755.5,274.7 755.8,264.3 756,274.2 756.2,265.8 756.5,273.6 756.8,269.6 757,274.8 757.2,248.4 757.5,275 757.8,269 758,273.8 758.2,269.3 758.5,274.3 758.8,273.3 759,273.9 759.2,267.5 759.5,273.4 759.8,270 760,274.8 760.2,266.3 760.5,273.5 760.8,271.2 761,273.2 761.2,272.1 761.5,274.5 761.8,267.3 762,273.4 762.2,268.7 762.5,274.2 762.8,272.9 763,274.4 763.2,266.7 763.5,273.1 763.8,140.7 764,274.1 764.2,269.7 764.5,274.4 764.8,270.6 765,273.5 765.2,269.8 765.5,273.4 765.8,266.9 766,273.6 766.2,267.9 766.5,274.4 766.8,270.4 767,272.8 767.2,267.8 767.5,272.6 767.8,266.2 768,272.9 768.2,268.8 768.5,273 768.8,266.8 769,273.9 769.2,267.5 769.5,272.4 769.8,269.3 770,273.4 770.2,270.2 770.5,273.7 770.8,266.5 771,272.3 771.2,269.1 771.5,272.3 771.8,267.2 772,271.8 772.2,267.3 772.5,271.8 772.8,266.7 773,272.7 773.2,267.8 773.5,271.8 773.8,271.6 774,272.2 774.2,266.1 774.5,272.7 774.8,266.5 775,271.5 775.2,270.8 775.5,271.4 775.8,267.2 776,271.6 776.2,240 776.5,272.6 776.8,267.2 777,271.8 777.2,268.3 777.5,271.7 777.8,267.8 778,271.8 778.2,268.8 778.5,271.5 778.8,269.1 779,271.4 779.2,271.4 779.5,271.5 779.8,267.6 780,271.3 780.2,270.2 780.5,272.4 780.8,268.1 781,271.7 781.2,226.5 781.5,272.4 781.8,266.9 782,271.8 782.2,267.2 782.5,271.9 782.8,267.9 783,271.3 783.2,268.4 783.5,271.4 783.8,268 784,271.4 784.2,267.7 784.5,271.9 784.8,266.3 785,270.7 785.2,262"/>
<polyline fill="none" stroke="#000" stroke-width="1.6" stroke-linejoin="miter" stroke-miterlimit="2" points="1048.2,359.4 1048.6,179.4 1048.9,358.8 1049.3,82.9 1049.6,357.9 1050,357 1050.3,360.1 1050.7,227.1 1051.1,362.1 1051.4,182.8 1051.8,358.7 1052.1,84.7 1052.5,359.4 1052.8,97.3 1053.2,361.2 1053.6,322.4 1053.9,360.9 1054.3,213.6 1054.6,361.3 1055,82.9 1055.3,358.1 1055.7,279.9 1056.1,361.5 1056.4,359.7 1056.8,360.4 1057.1,82.9 1057.5,360 1057.8,362 1058.2,360.6 1058.6,277.4 1058.9,360 1059.3,88.5 1059.6,357.9 1060,230.3 1060.3,360.3 1060.7,341.5 1061.1,359 1061.4,103.1 1061.8,361.1 1062.1,235 1062.5,358.1 1062.8,225 1063.2,358.6 1063.6,245.3 1063.9,357.7 1064.3,254.4 1064.6,361.5 1065,289.4 1065.4,359.1 1065.7,220.2 1066.1,358.9 1066.4,208.2 1066.8,361.8 1067.1,360.7 1067.5,358.8 1067.9,125.8 1068.2,361.5 1068.6,197.6 1068.9,360.7 1069.3,336.4 1069.6,361.6 1070,279.5 1070.4,360.5 1070.7,95.7 1071.1,360.8 1071.4,359.2 1071.8,359.6 1072.1,359.2 1072.5,360.8 1072.9,206.9 1073.2,360 1073.6,282.4 1073.9,360.5 1074.3,154.6 1074.6,359.9 1075,174.8 1075.4,358.6 1075.7,199.6 1076.1,358.7 1076.4,203 1076.8,360.5 1077.1,108.6 1077.5,358.7 1077.9,179 1078.2,359.2 1078.6,139.2 1078.9,361.1 1079.3,195.7 1079.6,359.2 1080,218 1080.4,358.8 1080.7,82.9 1081.1,358.2 1081.4,318.5 1081.8,359.8 1082.1,90.2 1082.5,357.9 1082.9,208.2 1083.2,358.9 1083.6,226.2 1083.9,359.2 1084.3,201.1 1084.6,359.3 1085,189.3 1085.4,360.2 1085.7,121.3 1086.1,359.3 1086.4,110.4 1086.8,361.7 1087.1,359.5 1087.5,361.9 1087.9,359.3 1088.2,360.7 1088.6,247.6 1088.9,360.6 1089.3,149 1089.6,358.9 1090,178.1 1090.4,358.3 1090.7,230.5 1091.1,357.8 1091.4,263.1 1091.8,359.9 1092.1,255.8 1092.5,361.6 1092.9,134.3 1093.2,360.1 1093.6,239.6 1093.9,361.3 1094.3,103.8 1094.6,359.2 1095,92 1095.4,359.7 1095.7,336.4 1096.1,360.2 1096.4,239.3 1096.8,359 1097.2,354.9 1097.5,359.5 1097.9,127 1098.2,362.1 1098.6,181.1 1098.9,361.5 1099.3,361.5 1099.7,362.1 1100,361.8 1100.4,361 1100.7,360.7 1101.1,360.5 1101.4,148.6 1101.8,362 1102.2,329.3 1102.5,360.9 1102.9,173 1103.2,358.3 1103.6,361.5 1103.9,361.6 1104.3,221.9 1104.7,358.9 1105,361.1 1105.4,359.9 1105.7,106.8 1106.1,362.1 1106.4,361.4 1106.8,360.1 1107.2,337.3 1107.5,362.1 1107.9,226.8 1108.2,359 1108.6,183.4 1108.9,360.4 1109.3,79 1109.7,344.5 1110,344.5 1110.4,351.7 1110.7,343.7 1111.1,347.2 1111.4,353.5 1111.8,350.1 1112.2,340.8 1112.5,346.1 1112.9,344.3 1113.2,355.2 1113.6,326.8 1113.9,360.4 1114.3,345.8 1114.7,348.4 1115,359.7 1115.4,347.1 1115.7,345.8 1116.1,341.2 1116.4,347.5 1116.8,345.7 1117.2,337.7 1117.5,332.9 1117.9,356.4 1118.2,347.1 1118.6,349.8 1118.9,352.5 1119.3,350.8 1119.7,326.1 1120,341.5 1120.4,359 1120.7,354.6 1121.1,340.3 1121.4,343.3 1121.8,347.1 1122.2,337.6 1122.5,347.8 1122.9,355.1 1123.2,342 1123.6,333.9 1123.9,348.7 1124.3,352.4 1124.7,357.3 1125,326.9 1125.4,311.9 1125.7,355.5 1126.1,333.7 1126.4,355.2 1126.8,347.2 1127.2,350.5 1127.5,337 1127.9,350.4 1128.2,347.1 1128.6,355 1128.9,351.7 1129.3,353 1129.7,353.8 1130,351.1 1130.4,332.5 1130.7,332.6 1131.1,352.4 1131.5,345 1131.8,358.7 1132.2,351.6 1132.5,346.5 1132.9,334.4 1133.2,350.9 1133.6,347.3 1134,336.2 1134.3,336.3 1134.7,339.2 1135,332 1135.4,359.4 1135.7,355.4 1136.1,359.6 1136.5,342 1136.8,342.1 1137.2,347.5 1137.5,332.4 1137.9,333.2 1138.2,360 1138.6,349.8 1139,349.4 1139.3,356.1 1139.7,335.6 1140,359.5 1140.4,351.6 1140.7,345.1 1141.1,343.7 1141.5,345.7 1141.8,360.2 1142.2,350.4 1142.5,333.1 1142.9,352.6 1143.2,345.8 1143.6,332.8 1144,345.9 1144.3,338.1 1144.7,345.8 1145,333.3 1145.4,339.6 1145.7,353.2 1146.1,336.7 1146.5,340.1 1146.8,354.2 1147.2,348.3 1147.5,322 1147.9,353.8 1148.2,354.6 1148.6,359.1 1149,351.9 1149.3,348.4 1149.7,336.7 1150,343.6 1150.4,349.8 1150.7,333.2 1151.1,333.3 1151.5,353.9 1151.8,332.9 1152.2,345.7 1152.5,336.3 1152.9,346.5 1153.2,349.8 1153.6,353.6 1154,355.1 1154.3,353.9 1154.7,357.6 1155,359.7 1155.4,355.8 1155.7,344.2 1156.1,347 1156.5,334.5 1156.8,342.1 1157.2,333 1157.5,353.6 1157.9,309.3 1158.2,337.4 1158.6,359.6 1159,348.6 1159.3,350.6 1159.7,345.2 1160,357.7 1160.4,346.5 1160.7,347.6 1161.1,351.9 1161.5,357.2 1161.8,336.8 1162.2,352.1 1162.5,351.8 1162.9,359.4 1163.3,359.9 1163.6,346.6 1164,351.5 1164.3,333.4 1164.7,323 1165,358.6 1165.4,348.3 1165.8,335 1166.1,350.5 1166.5,348.7 1166.8,348.8 1167.2,357.9 1167.5,354.5 1167.9,347.2 1168.3,352.5 1168.6,312.4 1169,342.8 1169.3,348.1 1169.7,350 1170,358.3 1170.4,357.3 1170.8,345.2 1171.1,354 1171.5,337.8 1171.8,345.4 1172.2,350.9 1172.5,355.8 1172.9,360.1 1173.3,359.2 1173.6,355.3 1174,357.3 1174.3,354.1 1174.7,353 1175,333.2 1175.4,337.3 1175.8,356.7 1176.1,349.7 1176.5,349.2 1176.8,346.1 1177.2,355.3 1177.5,358.8 1177.9,357.9 1178.3,354.4 1178.6,339.8 1179,348.7 1179.3,353.4 1179.7,345 1180,347.7 1180.4,358.9 1180.8,354.4 1181.1,346.7 1181.5,353.5 1181.8,350.8 1182.2,348.3 1182.5,349.1 1182.9,358.8 1183.3,341.5 1183.6,348.5 1184,340.5 1184.3,358.5 1184.7,351.4 1185,353.1 1185.4,349.7 1185.8,341.1 1186.1,347.9 1186.5,311 1186.8,354.3 1187.2,334.9 1187.5,355 1187.9,356.2 1188.3,339.3 1188.6,359.7 1189,358.1 1189.3,359.3 1189.7,342.5 1190,352.3 1190.4,334.9 1190.8,333.4 1191.1,341.2 1191.5,343.4 1191.8,357.6 1192.2,356 1192.5,359.7 1192.9,359.9 1193.3,333.5 1193.6,335.1 1194,352.1 1194.3,356.4 1194.7,338 1195.1,350.8 1195.4,341 1195.8,355.5 1196.1,359.8 1196.5,346.1 1196.8,356.1 1197.2,333.8 1197.6,350.5 1197.9,359.1 1198.3,349.5 1198.6,355.7 1199,353.9 1199.3,337.1 1199.7,353 1200.1,318.9 1200.4,342 1200.8,336.1 1201.1,339.2 1201.5,353.3 1201.8,359.4 1202.2,337.3 1202.6,345.1 1202.9,350.6 1203.3,314.5 1203.6,350.9 1204,345.8 1204.3,346.6 1204.7,352.3 1205.1,336.2 1205.4,355.6 1205.8,345.8 1206.1,357 1206.5,354.1 1206.8,354.9 1207.2,345.6 1207.6,328 1207.9,358.5 1208.3,359.1 1208.6,360.4 1209,358.7 1209.3,343.7 1209.7,360 1210.1,348.3 1210.4,349.2 1210.8,349.4 1211.1,346.9 1211.5,338.9 1211.8,337.7 1212.2,358.6 1212.6,332.3 1212.9,359.8 1213.3,347.1 1213.6,345.8 1214,345.5 1214.3,338.4 1214.7,343.3 1215.1,356.9 1215.4,339.8 1215.8,355.8 1216.1,333.7 1216.5,350.8 1216.8,352.4 1217.2,359.9 1217.6,340.5 1217.9,340.2 1218.3,347.1 1218.6,355.9 1219,328 1219.3,352.8 1219.7,357.2 1220.1,321 1220.4,318 1220.8,345.3 1221.1,338.8 1221.5,359.2 1221.8,353.2 1222.2,359.4 1222.6,360.2 1222.9,347.6 1223.3,346.2 1223.6,356.3 1224,351 1224.3,349.6 1224.7,357.8 1225.1,337.3 1225.4,353.7 1225.8,338.8 1226.1,310.3 1226.5,347.2 1226.9,349.1 1227.2,343.8 1227.6,349 1227.9,354.6 1228.3,354.7 1228.6,336 1229,351.8 1229.4,347.7 1229.7,332.8 1230.1,353.6 1230.4,309.1 1230.8,352.6 1231.1,345.6 1231.5,346.8 1231.9,354.4 1232.2,348.4 1232.6,346.7 1232.9,342.3 1233.3,333 1233.6,355 1234,356.1 1234.4,341.6 1234.7,346.9 1235.1,349 1235.4,332 1235.8,352.9 1236.1,352.2 1236.5,335.2 1236.9,346.2 1237.2,333.3 1237.6,346.2 1237.9,354.6 1238.3,347.7 1238.6,339.4 1239,351.9 1239.4,359 1239.7,336 1240.1,353.3 1240.4,353.6 1240.8,351.5 1241.1,357.9 1241.5,333.6 1241.9,337.4 1242.2,349.1 1242.6,354.9 1242.9,346.8 1243.3,350.2 1243.6,341.5 1244,354 1244.4,333.3 1244.7,354.8 1245.1,349 1245.4,350.1 1245.8,333 1246.1,351.3 1246.5,346 1246.9,347.8 1247.2,357.2 1247.6,352.8 1247.9,338.2 1248.3,332.4 1248.6,349.5 1249,339.7 1249.4,359.6 1249.7,346.6 1250.1,346.8 1250.4,346.3 1250.8,353.4 1251.1,349.2 1251.5,360 1251.9,348.2 1252.2,359.1 1252.6,354.8 1252.9,350 1253.3,353.1 1253.6,332.8 1254,352.2 1254.4,359.1 1254.7,352.7 1255.1,343.2 1255.4,339.1 1255.8,354.3 1256.1,335 1256.5,356.2 1256.9,347 1257.2,334.5 1257.6,338.7 1257.9,358.2 1258.3,342.5 1258.6,340.7 1259,337.3 1259.4,326.7 1259.7,343.5 1260.1,354.1 1260.4,352.5 1260.8,359.2 1261.2,337 1261.5,347 1261.9,351.4 1262.2,347 1262.6,356.7 1262.9,345 1263.3,349.8 1263.7,355.2 1264,357.9 1264.4,350.2 1264.7,352.8 1265.1,354.5 1265.4,347.5 1265.8,345 1266.2,356.9 1266.5,345.7 1266.9,352.4 1267.2,335 1267.6,358.1 1267.9,344.4 1268.3,350.9 1268.7,348.5 1269,332.2 1269.4,354 1269.7,352.8 1270.1,349.7 1270.4,350.7 1270.8,356.7 1271.2,355.6 1271.5,335.9 1271.9,347.3 1272.2,308.4 1272.6,346.6 1272.9,351.8 1273.3,352.3 1273.7,345.4 1274,356.8 1274.4,357.9 1274.7,356 1275.1,354.5 1275.4,331 1275.8,348.1 1276.2,337.1 1276.5,337.5 1276.9,335.3 1277.2,319.1 1277.6,356.2 1277.9,347.6 1278.3,358.8 1278.7,348.3 1279,351.9 1279.4,345.4 1279.7,356.8 1280.1,358.2 1280.4,356.7 1280.8,359.1 1281.2,351.4 1281.5,355.1 1281.9,356 1282.2,347.9 1282.6,348.9 1282.9,356.8 1283.3,340 1283.7,350.6 1284,341.1 1284.4,347.2 1284.7,332.1 1285.1,338.4 1285.4,332.1 1285.8,359.7 1286.2,350 1286.5,346.2 1286.9,332.1 1287.2,323.6 1287.6,352.4 1287.9,351.9 1288.3,354.4 1288.7,347.6 1289,351.8 1289.4,348.5 1289.7,344.2 1290.1,340.1 1290.4,342 1290.8,346.5 1291.2,351.3 1291.5,358.2 1291.9,349.8 1292.2,346.9 1292.6,346.3 1293,359.1 1293.3,345.6 1293.7,352.2 1294,347.3 1294.4,338.7 1294.7,342.1 1295.1,336.4 1295.5,336.5 1295.8,349.5 1296.2,337.2 1296.5,346.4 1296.9,348.2 1297.2,352.1 1297.6,344.9 1298,355.6 1298.3,358.4 1298.7,313.9 1299,336 1299.4,352.7 1299.7,352.8 1300.1,353.8 1300.5,355.1 1300.8,351.2 1301.2,347 1301.5,358.5 1301.9,350.6 1302.2,354.1 1302.6,338.7 1303,345.6 1303.3,343.3 1303.7,346 1304,341.4 1304.4,341.8 1304.7,319.9 1305.1,337 1305.5,352.9 1305.8,358 1306.2,358.1 1306.5,339.1 1306.9,354.6 1307.2,345.3 1307.6,357.1 1308,359.5 1308.3,358.2 1308.7,347 1309,356.2 1309.4,349.3 1309.7,338.2 1310.1,351.2 1310.5,341.3 1310.8,354.4 1311.2,349.4 1311.5,329.3 1311.9,348.8 1312.2,353.9 1312.6,358.9 1313,349.7 1313.3,354.4 1313.7,346 1314,321 1314.4,339.9 1314.7,313.8 1315.1,357.1 1315.5,338.8 1315.8,311.2 1316.2,346.8 1316.5,348.8 1316.9,333.6 1317.2,356.4 1317.6,357.9 1318,348.9 1318.3,336 1318.7,334.6 1319,352.6 1319.4,315.9 1319.7,358.1 1320.1,356.3 1320.5,353.6 1320.8,353.8 1321.2,332.5 1321.5,338.9 1321.9,333.2 1322.2,337.5 1322.6,352.5 1323,356.5 1323.3,350 1323.7,349.9 1324,358.2 1324.4,349.5 1324.8,332.1 1325.1,348.5 1325.5,315.9 1325.8,335.1 1326.2,354 1326.5,343 1326.9,345.8 1327.3,340.9 1327.6,356.3 1328,358.4 1328.3,355.6 1328.7,334.8 1329,353.4 1329.4,343.1 1329.8,352.3 1330.1,357.9 1330.5,353.6 1330.8,355.1 1331.2,349.3 1331.5,354.3 1331.9,347.1 1332.3,353.6 1332.6,333.5 1333,345.3 1333.3,349.5 1333.7,315 1334,338 1334.4,346.2 1334.8,355.7 1335.1,345.3 1335.5,336.2 1335.8,351.8 1336.2,339.2 1336.5,347.3 1336.9,356.1 1337.3,353.3 1337.6,359.7 1338,345.7 1338.3,355.2 1338.7,355.5 1339,354.5 1339.4,355.3 1339.8,355.9 1340.1,355.8 1340.5,341.2 1340.8,345.9 1341.2,348.5 1341.5,353.1 1341.9,356.8 1342.3,359.5 1342.6,353.7 1343,350 1343.3,359.7 1343.7,343.7 1344,353.3 1344.4,358.2 1344.8,339.3 1345.1,355.8 1345.5,357.4 1345.8,346 1346.2,359.1 1346.5,356.6 1346.9,356.9 1347.3,355.3 1347.6,358.3 1348,359.9 1348.3,352.6 1348.7,353.7 1349,332.9 1349.4,352.7 1349.8,312.9 1350.1,349.3 1350.5,344.2 1350.8,342 1351.2,358.8 1351.5,350.1 1351.9,337.5 1352.3,311.1 1352.6,336.7 1353,359.5 1353.3,348.8 1353.7,341.4 1354,346.8 1354.4,349.1 1354.8,343.8 1355.1,338.6 1355.5,353.4 1355.8,349.9 1356.2,345.7 1356.5,351.5 1356.9,314.7 1357.3,356 1357.6,357.5 1358,316 1358.3,359 1358.7,347.3 1359.1,353.5 1359.4,346.3 1359.8,353 1360.1,349.8 1360.5,352.3 1360.8,357 1361.2,338.3 1361.6,335.6 1361.9,354.6 1362.3,355.4 1362.6,353 1363,347.3 1363.3,311.1 1363.7,345.2 1364.1,350.2 1364.4,336.7 1364.8,348.2 1365.1,352.4 1365.5,333.3 1365.8,353.9 1366.2,342.7 1366.6,331.1 1366.9,355.2 1367.3,319.1 1367.6,354.1 1368,335.5 1368.3,339.8 1368.7,338.7 1369.1,358.9 1369.4,357.1 1369.8,346.2 1370.1,352.4 1370.5,349.6 1370.8,350 1371.2,357.9 1371.6,356.2 1371.9,336.2 1372.3,359 1372.6,345.6 1373,350.3 1373.3,335.4 1373.7,350.7 1374.1,338.2 1374.4,354.2 1374.8,359.4 1375.1,330.9 1375.5,334.9 1375.8,356.6 1376.2,353.2 1376.6,352.6 1376.9,336.3 1377.3,333.6 1377.6,359.4 1378,352.4 1378.3,344.7 1378.7,349.2 1379.1,359.1 1379.4,339.9 1379.8,342.6 1380.1,350.9 1380.5,354.9 1380.8,353.3 1381.2,353.2 1381.6,352.7 1381.9,359.1 1382.3,354.7 1382.6,356.3 1383,339.3 1383.3,333.3 1383.7,351.3 1384.1,333.4 1384.4,330.1 1384.8,352.7 1385.1,358.8 1385.5,349.9 1385.8,349.4 1386.2,355.4 1386.6,346.3 1386.9,356.2 1387.3,345.5 1387.6,342.3 1388,351.2 1388.3,338 1388.7,355.5 1389.1,354.3 1389.4,350.4 1389.8,334.6 1390.1,354.8 1390.5,355.1 1390.9,359.8 1391.2,352.5 1391.6,351.8 1391.9,354.5 1392.3,347.3 1392.6,356.7 1393,354.7 1393.4,348.5 1393.7,344 1394.1,348.7 1394.4,356.7 1394.8,352 1395.1,344.4 1395.5,343 1395.9,350.6 1396.2,329.1 1396.6,354.6 1396.9,350 1397.3,352.7 1397.6,350.9 1398,341.2 1398.4,358.8 1398.7,353.5 1399.1,355.2 1399.4,350.5 1399.8,352 1400.1,335.6 1400.5,355.9 1400.9,353.4 1401.2,351.2 1401.6,356.8 1401.9,352.5 1402.3,347.3 1402.6,358.2 1403,349.5 1403.4,353.9 1403.7,351.3 1404.1,355.3 1404.4,351.4 1404.8,348.6 1405.1,347.9 1405.5,348.9 1405.9,347.2 1406.2,356.8 1406.6,350.2 1406.9,359.8 1407.3,346.6 1407.6,355.8 1408,344 1408.4,354.7 1408.7,342.1 1409.1,354.7 1409.4,336 1409.8,347.6 1410.1,326.5 1410.5,340.4 1410.9,341.4 1411.2,351.1 1411.6,353.9 1411.9,354.5 1412.3,354.3 1412.6,348.3 1413,346 1413.4,347.1 1413.7,354.9 1414.1,356.1 1414.4,348.5 1414.8,356.2 1415.1,350.5 1415.5,359.2 1415.9,349.7 1416.2,359.7 1416.6,336 1416.9,352 1417.3,355.9 1417.6,341.9 1418,336.3 1418.4,352.6 1418.7,348.9 1419.1,350.4 1419.4,348.4 1419.8,359.8 1420.1,357.9 1420.5,356 1420.9,339.5 1421.2,336.7 1421.6,349.2 1421.9,353.8 1422.3,336.8 1422.7,334.7 1423,348 1423.4,350.3 1423.7,350.5 1424.1,359.3 1424.4,350 1424.8,353.1 1425.2,353 1425.5,350.4 1425.9,351.8 1426.2,356.2 1426.6,347.4 1426.9,339.3 1427.3,354.6 1427.7,327.6 1428,359.4 1428.4,355.9 1428.7,360 1429.1,353 1429.4,359.2 1429.8,354.8 1430.2,355.6 1430.5,359.3 1430.9,359.9 1431.2,347.6 1431.6,338.1 1431.9,354.3 1432.3,334.5 1432.7,334.9 1433,344.2 1433.4,335.5 1433.7,348.7 1434.1,355.5 1434.4,356.4 1434.8,350.5 1435.2,351.9 1435.5,358.9 1435.9,357.4 1436.2,348.1 1436.6,341.7 1436.9,350 1437.3,338.7 1437.7,352.5 1438,354.9 1438.4,338.2 1438.7,349.1 1439.1,347.8 1439.4,358.3 1439.8,354.8 1440.2,354.3 1440.5,349.3 1440.9,353.5 1441.2,339.6 1441.6,355.3 1441.9,350.1 1442.3,354.2 1442.7,340.1 1443,355.2 1443.4,351.8 1443.7,354.3 1444.1,350.2 1444.4,346.8 1444.8,343.2 1445.2,340.4 1445.5,350.1 1445.9,347.4 1446.2,335.1 1446.6,351.8 1446.9,344.6 1447.3,349.7 1447.7,352.2 1448,354.8 1448.4,355.6 1448.7,339.6 1449.1,349 1449.4,347.9 1449.8,355.5 1450.2,343.5 1450.5,357.2 1450.9,352.7 1451.2,359 1451.6,348 1451.9,347.3 1452.3,359.2 1452.7,334.6 1453,352.6 1453.4,350 1453.7,357.2 1454.1,352.6 1454.5,352.1 1454.8,351.2 1455.2,359.5 1455.5,348.8 1455.9,357.7 1456.2,358.6 1456.6,347.9 1457,351.9 1457.3,354.1 1457.7,355.2 1458,350.2 1458.4,352.1 1458.7,345 1459.1,349.9 1459.5,353.4 1459.8,359.8 1460.2,354.1 1460.5,350.7 1460.9,359.6 1461.2,350.4 1461.6,355 1462,355.7 1462.3,357.2 1462.7,357.7 1463,335.6 1463.4,348.6 1463.7,359.9 1464.1,350.1 1464.5,358.1 1464.8,337.6 1465.2,348.7 1465.5,339 1465.9,335.2 1466.2,350.9 1466.6,359.5 1467,350.6 1467.3,351.4 1467.7,352.5 1468,356.8 1468.4,356.8 1468.7,349 1469.1,359.5 1469.5,337.2 1469.8,352.7 1470.2,349.2 1470.5,333.3 1470.9,356.4 1471.2,355.4 1471.6,351.7 1472,347.5 1472.3,356.5 1472.7,336 1473,353.6 1473.4,356.8 1473.7,345.3 1474.1,335.1 1474.5,357.6 1474.8,352 1475.2,350.8 1475.5,359.9 1475.9,347.2 1476.2,360 1476.6,336 1477,349.2 1477.3,354.4 1477.7,353.4 1478,359.4 1478.4,336.4 1478.7,354.7 1479.1,359.9 1479.5,354.9 1479.8,353.9 1480.2,337.9 1480.5,353.8 1480.9,342.6 1481.2,355.1 1481.6,352.9 1482,355 1482.3,358.7 1482.7,357.2 1483,356.3 1483.4,340.4 1483.7,336.1 1484.1,350 1484.5,357.8 1484.8,347.3 1485.2,342.7 1485.5,351.6 1485.9,349.1 1486.2,357.2 1486.6,354.3 1487,347 1487.3,339.1 1487.7,334.1 1488,355.9 1488.4,356 1488.8,355.3 1489.1,352.1 1489.5,359.4 1489.8,345.3 1490.2,351.5 1490.5,350.6 1490.9,354.3 1491.3,347.7 1491.6,359.4 1492,350.8 1492.3,348.5 1492.7,351.5 1493,350.8 1493.4,339.5 1493.8,335.6 1494.1,348.6 1494.5,333.7 1494.8,346.4 1495.2,348.6 1495.5,353.6 1495.9,341.1 1496.3,325.6 1496.6,358 1497,339.1 1497.3,351.1 1497.7,336.7 1498,351.5 1498.4,359.2 1498.8,349.6 1499.1,351.2 1499.5,355 1499.8,356 1500.2,357.5 1500.5,349.5 1500.9,350.5 1501.3,338.8 1501.6,347.4 1502,359.5 1502.3,351.8 1502.7,356.1 1503,352.3 1503.4,350.6 1503.8,352.5 1504.1,351.5 1504.5,349.6 1504.8,353.4 1505.2,323.5 1505.5,356.9 1505.9,358 1506.3,359.6 1506.6,335.3 1507,344.9 1507.3,337.8 1507.7,346.6 1508,336.5 1508.4,356.1 1508.8,341.7 1509.1,354.2 1509.5,357.4 1509.8,358.2 1510.2,347.5 1510.5,347.3 1510.9,353.2 1511.3,357.8 1511.6,356 1512,356.4 1512.3,349.8 1512.7,353.1 1513,349.6 1513.4,353.2 1513.8,357.9 1514.1,354.6 1514.5,350.1 1514.8,359 1515.2,333.5 1515.5,348 1515.9,351.4 1516.3,344.6 1516.6,359 1517,338.7 1517.3,357 1517.7,349.4 1518,354.4 1518.4,355.5 1518.8,357.8 1519.1,353.6 1519.5,356.4 1519.8,349.5 1520.2,350.8 1520.6,336.8 1520.9,355.4 1521.3,354.7 1521.6,358.5 1522,341.8 1522.3,351.3 1522.7,334.7 1523.1,330.8 1523.4,357.7 1523.8,347.3 1524.1,350.4 1524.5,333.4 1524.8,338.1 1525.2,353.9 1525.6,348.4 1525.9,346.5 1526.3,341.1 1526.6,358.6 1527,354.4 1527.3,338.6 1527.7,354.4 1528.1,339 1528.4,339.1 1528.8,352 1529.1,349.2 1529.5,352.4 1529.8,357.1 1530.2,334.2 1530.6,356.6 1530.9,338.2 1531.3,353.6 1531.6,348.7 1532,341.8 1532.3,355.6 1532.7,352.3 1533.1,338.1 1533.4,347.7 1533.8,346.7 1534.1,348.7 1534.5,347.7 1534.8,337.5 1535.2,336.1 1535.6,339.9 1535.9,347.9 1536.3,348.7 1536.6,358.8 1537,353.9 1537.3,343.8 1537.7,344.6 1538.1,346.4 1538.4,344.1 1538.8,350.1 1539.1,352.6 1539.5,341.2 1539.8,356.1 1540.2,355 1540.6,340.8 1540.9,344.8 1541.3,337.4 1541.6,337.5 1542,350 1542.3,346.4 1542.7,349.8 1543.1,357.9 1543.4,358.7 1543.8,351.4 1544.1,347.8 1544.5,357.9 1544.8,357.8 1545.2,357.5 1545.6,341.4 1545.9,347 1546.3,349.3 1546.6,355.1 1547,345.7 1547.3,355.1 1547.7,351.1 1548.1,341.6 1548.4,343.5 1548.8,349.6 1549.1,335.4 1549.5,358.9 1549.8,358 1550.2,357.4 1550.6,351.8 1550.9,350.4 1551.3,354.4 1551.6,341.5 1552,358.6 1552.4,358.7 1552.7,346.6 1553.1,357.5 1553.4,354.6 1553.8,349.9 1554.1,344.3 1554.5,350 1554.9,353.6 1555.2,358 1555.6,344.7 1555.9,348.9 1556.3,348.9 1556.6,333.4 1557,347.3 1557.4,347.1 1557.7,343.7 1558.1,333.2 1558.4,323.5 1558.8,352.9 1559.1,333.7 1559.5,351.1 1559.9,339.6 1560.2,351.4 1560.6,349.4 1560.9,347.5 1561.3,359.1 1561.6,353.2 1562,356.7 1562.4,356.2 1562.7,352.2 1563.1,349.4 1563.4,350.1 1563.8,346 1564.1,356.6 1564.5,346.9 1564.9,356.7 1565.2,342.1 1565.6,350.8 1565.9,338.7 1566.3,356.9 1566.6,337.9 1567,350.8 1567.4,346 1567.7,352.8 1568.1,356.8 1568.4,349.5 1568.8,359 1569.1,353.8 1569.5,359.7 1569.9,357.5 1570.2,358.6 1570.6,353.6 1570.9,342.2 1571.3,338 1571.6,353.5 1572,357.7 1572.4,351 1572.7,351.2 1573.1,356.8 1573.4,353.6 1573.8,357.7 1574.1,355 1574.5,347.3 1574.9,346.1 1575.2,352.5 1575.6,352.8 1575.9,338.3 1576.3,355.3 1576.6,347.1 1577,348 1577.4,344.9 1577.7,355.9 1578.1,356.7 1578.4,354.5 1578.8,354.2 1579.1,350.4 1579.5,348.4 1579.9,342.4 1580.2,346.1 1580.6,340 1580.9,340.2 1581.3,349.6 1581.6,359.6 1582,336.3 1582.4,334.6 1582.7,333.5 1583.1,347.5 1583.4,354.5 1583.8,346.2 1584.2,342.6 1584.5,356.1 1584.9,335.2 1585.2,350.8 1585.6,356.6 1585.9,343.9 1586.3,352.2 1586.7,351.3 1587,349.9 1587.4,340.5 1587.7,354.4 1588.1,346.9 1588.4,352.1 1588.8,347.5 1589.2,357.8 1589.5,339.8 1589.9,344.9 1590.2,354.8 1590.6,353.1 1590.9,358 1591.3,353 1591.7,347.5 1592,348.1 1592.4,354.8 1592.7,338.3 1593.1,333.1 1593.4,352 1593.8,356.1 1594.2,358.3 1594.5,342.2 1594.9,357.3 1595.2,338 1595.6,351.1 1595.9,352.4 1596.3,347.9 1596.7,359.6 1597,351.4 1597.4,359.8 1597.7,334.1 1598.1,359.8 1598.4,345.6 1598.8,353.2 1599.2,340.6 1599.5,349.6 1599.9,356.6 1600.2,342.3 1600.6,359.2 1600.9,358.6 1601.3,339.3 1601.7,344.3 1602,345.4 1602.4,355.3 1602.7,358.3 1603.1,355.2 1603.4,353.7 1603.8,324.4 1604.2,352.4 1604.5,358 1604.9,356.5 1605.2,357.8 1605.6,342.1 1605.9,354.6 1606.3,335.8 1606.7,344.8 1607,352 1607.4,352.7 1607.7,350.5 1608.1,359.5 1608.4,348.6 1608.8,346 1609.2,355.3 1609.5,354.9 1609.9,349 1610.2,350.4 1610.6,337.5 1610.9,357.4 1611.3,359.6 1611.7,338.7 1612,354.7 1612.4,353.6 1612.7,344.7 1613.1,347.9 1613.4,347.1 1613.8,355.1 1614.2,334.3 1614.5,342.4 1614.9,357.6 1615.2,342.3 1615.6,347.6 1615.9,334.7 1616.3,333.6 1616.7,351.7 1617,352.5 1617.4,350.3 1617.7,349.7 1618.1,357.1 1618.5,348.3 1618.8,355.5 1619.2,354.4 1619.5,359.4 1619.9,359.4 1620.2,340.9 1620.6,349.4 1621,356.8 1621.3,337.5 1621.7,358.5 1622,350.6 1622.4,354.6 1622.7,350.1 1623.1,333.5 1623.5,348.6 1623.8,337.8 1624.2,336 1624.5,347.6 1624.9,355 1625.2,359.5 1625.6,359 1626,356.6 1626.3,351.3 1626.7,351.3 1627,350.5 1627.4,350.1 1627.7,356.7 1628.1,349.8 1628.5,346.1 1628.8,340.7 1629.2,353.3 1629.5,349.1 1629.9,354.8 1630.2,352.1 1630.6,351.9 1631,338.3 1631.3,358.2 1631.7,355.6 1632,355.5 1632.4,350.3 1632.7,356.8 1633.1,354.7 1633.5,333.3 1633.8,346.4 1634.2,354.8 1634.5,358.4 1634.9,351.9 1635.2,349.8 1635.6,349.1 1636,354 1636.3,347.8 1636.7,343.2 1637,335 1637.4,358.6 1637.7,355.7 1638.1,349 1638.5,351.3 1638.8,347.3 1639.2,353.8 1639.5,352.4 1639.9,347.2 1640.2,351.6 1640.6,338.5 1641,356.7 1641.3,348.5 1641.7,354.8 1642,359.6 1642.4,353.8 1642.7,335 1643.1,335.8 1643.5,334.6 1643.8,354.6 1644.2,354.3 1644.5,346 1644.9,352.5 1645.2,322 1645.6,343.9 1646,339.7 1646.3,351.8 1646.7,347.1 1647,356.8 1647.4,359.4 1647.7,350 1648.1,335.2 1648.5,338.8 1648.8,349.7 1649.2,338.1 1649.5,358.4 1649.9,357.7 1650.3,345.3 1650.6,341.8 1651,350 1651.3,350.4 1651.7,350.1 1652,349.4 1652.4,327.3 1652.8,355.3 1653.1,340.6 1653.5,355.6 1653.8,335.5 1654.2,347.5 1654.5,337.8 1654.9,354.2 1655.3,349 1655.6,356.2 1656,335.5 1656.3,340.7 1656.7,356.4 1657,346 1657.4,353.1 1657.8,335.6 1658.1,347.9 1658.5,356.3 1658.8,323.8 1659.2,339.6 1659.5,357.4 1659.9,347.2 1660.3,349.5 1660.6,347 1661,338.9 1661.3,359.1 1661.7,341.8 1662,348.6 1662.4,338 1662.8,356.1 1663.1,355.6 1663.5,360 1663.8,352.7 1664.2,353.7 1664.5,342.7 1664.9,353.2 1665.3,358.8 1665.6,356 1666,356.5 1666.3,359.4 1666.7,348 1667,349.2 1667.4,355.3 1667.8,351.5 1668.1,335.6 1668.5,334.7 1668.8,345.3 1669.2,358.2 1669.5,352.7 1669.9,346.4 1670.3,340.7 1670.6,348.6 1671,342.8 1671.3,346 1671.7,354.2 1672,348.8 1672.4,354 1672.8,357.6 1673.1,347.6 1673.5,347.5 1673.8,349.8 1674.2,352.5 1674.5,355.3 1674.9,350 1675.3,347.8 1675.6,356.5 1676,347.3 1676.3,342.6 1676.7,355.2 1677,356.1 1677.4,359.4 1677.8,334.7 1678.1,347.4 1678.5,353.9 1678.8,342.2 1679.2,356.1 1679.5,357.4 1679.9,348.3 1680.3,355.7 1680.6,338.6 1681,350.5 1681.3,337.3 1681.7,357.1 1682.1,358 1682.4,359.8 1682.8,355 1683.1,330.6 1683.5,351.5 1683.8,348.3 1684.2,352.6 1684.6,349.9 1684.9,359.4 1685.3,353.8 1685.6,343.5 1686,358 1686.3,328 1686.7,347.3 1687.1,351.9 1687.4,337.5 1687.8,349.8 1688.1,358.3 1688.5,333.3 1688.8,355.1 1689.2,345.6 1689.6,354.7 1689.9,346.8 1690.3,348 1690.6,358.8 1691,354.9 1691.3,352.7 1691.7,359.6 1692.1,348.7 1692.4,356.9 1692.8,336.5 1693.1,345.6 1693.5,345.5 1693.8,359.8 1694.2,345.2 1694.6,334.7 1694.9,348.8 1695.3,359.8 1695.6,352.5 1696,355.3 1696.3,356 1696.7,347.6 1697.1,356.8 1697.4,343.4 1697.8,339.6 1698.1,334.2 1698.5,356.3 1698.8,358.1 1699.2,356.7 1699.6,344.6 1699.9,348.5 1700.3,332.9"/>
<polyline fill="none" stroke="#000" stroke-width="3.6" stroke-linejoin="round" points="131,500.1 131.9,499.1 132.9,499.5 133.8,499 134.7,499.2 135.6,500.4 136.5,500.7 137.4,501.8 138.3,501.1 139.2,501.7 140.1,504.6 141,504.5 142.1,504.6 143.2,505.2 144.3,507.9 145.4,507.3 146.5,506.1 147.6,506 148.7,504 149.5,502.6 150.3,501.6 151.2,499 152,498.5 152.7,496.6 153.5,495 154.2,491.8 155,489.7 155.8,488 156.7,485.6 157.5,483 158.5,481.5 159.4,482.9 160.4,482 161.4,481.4 162.3,481.8 163.2,482 164.1,484.1 164.8,487.6 165.6,489.2 166.3,491.8 167,494.6 167.8,497.3 168.5,498.5 169.4,500.5 170.4,502.5 171.3,502.9 172.2,502.4 173.2,503.1 174.2,501.9 175.1,501.8 175.9,501.1 176.6,499.1 177.4,496.2 178.1,492.7 178.8,490.3 179.4,488 180.1,486.3 180.8,485.6 181.5,482.3 182.2,480.9 182.9,478.6 183.6,476.2 184.4,475 185.1,473.1 186.2,470.9 186.9,467.7 187.7,464.6 188.4,462.1 189.3,463.1 190.2,463.8 191.1,464.3 191.7,462.6 192.2,459.2 192.8,457.1 193.3,453.2 193.9,457.1 194.4,460.4 195,462.1 195.3,465.7 195.6,467.5 195.8,472.5 196.1,476 196.4,479 196.6,481.3 196.9,484.8 197.2,487.4 197.6,483.9 197.9,482.8 198.3,479.3 198.7,475.8 199,472.5 199.4,470.9 200,469.2 200.6,466.9 201.3,461.9 201.9,461 202.5,457.6 203.2,460.7 203.8,464.3 203.9,466.5 204.1,470 204.2,474.4 204.4,477.8 204.5,478.7 204.7,483.3 204.8,485 204.9,489.9 205.1,492 205.2,496.5 205.4,499.9 205.5,501.8 206.2,504.3 206.8,508 207.5,508.7 208.2,511.7 208.4,507.6 208.5,505.9 208.7,501.5 208.8,498.9 209,496.4 209.1,493.9 209.3,489.7 209.4,486.4 209.6,485.6 209.7,481.1 209.9,478.6 210.7,477 211.6,474.1 212.4,470.3 212.9,472.9 213.4,476 213.8,479.1 214.3,481.9 214.5,485.6 214.8,488.8 215,492 215.2,495.5 215.5,499.6 215.7,501.8 216,498.5 216.4,495 216.8,492.4 217.1,488.5 217.6,491.2 218.2,494.6 218.7,498.5 219.2,503.6 219.8,506.2 220,509.4 220.1,512.6 220.3,514.4 220.4,518.6 220.6,522.1 220.7,523.8 220.9,528.2 221,531.6 221,534.6 221.1,537.1 221.2,540.9 221.2,543.8 221.3,547 221.4,550.2 221.5,552.8 221.6,556.2 221.7,559.3 221.7,561.4 221.8,564.4 221.9,568.2 222,571.5 222.1,573.7 222.2,576.9 222.3,580.1 222.4,582.7 222.5,585.8 222.5,588.7 222.6,591.8 222.7,595 222.8,597.7 222.9,600.9 223,603.7 223.1,607.2 223.2,609.3 223.3,613 223.4,616.2 223.5,618.6 223.6,621.5 223.7,625.2 223.9,627.5 224,630.5 224.1,633.8 224.2,637.1 224.3,639.3 224.4,642.6 224.5,645.6 224.6,649.2 224.7,651.7 224.8,654.8 225,658.4 225.1,660.7 225.3,664.1 225.4,667.6 225.6,671 225.8,673.6 225.9,676.5 226.1,679.5 226.2,683.2 226.4,685.9 226.5,689.8 226.7,692.6 227,696.1 227.3,698.4 227.6,701.6 228,705.3 228.3,708.2 228.6,711.5 228.9,714.2 229.7,715.9 230.5,717.5 231.3,719.6 232.1,722.1 232.9,723.6 233.9,723.7 234.9,724.1 236,724.6 237,725 237.9,723.5 238.8,722.2 239.7,720.9 240.2,718.4 240.8,714.6 241.3,711.4 241.9,709.6 242.4,706.1 243,703.9 243.5,701.3 244.1,697.9 244.7,695.8 245.3,693.1 245.8,689.6 246.4,687.2 247.3,685.7 248.2,684 249.1,681.8 250,682.5 250.9,682.8 251.8,683.2 252.3,685.9 252.9,688.9 253.4,691.8 254,694.5 254.5,698 254.9,700.8 255.4,703.1 255.8,706.5 256.3,708.3 256.8,712 257.2,714.2 258.1,716.7 259,719.2 259.9,720.9 260.8,721.8 261.7,722.3 262.6,722.3 263.5,724.6 264.4,726.2 265.3,729 266.2,728.8 267.1,727.7 268,727.4 268.9,727.4 269.8,726.8 270.7,726.3 271.6,725.7 272.5,725.8 273.4,724.9 274.3,724.1 275.2,723.4 276.1,723.7 277,722.7 277.9,722.5 278.8,721.7 279.7,721.8 280.6,722 281.5,722.7 282.4,723.3 283.3,722.9 284.2,723.6 285.2,724.7 286.1,725.6 287.1,726.3 288,727.1 289,726.9 289.9,728.4 290.9,729 291.8,729.7 292.7,729.1 293.6,729.6 294.5,729.9 295.4,730.5 296.3,730.7 297.2,731.1 298.1,731.7 299,731.7 300,730.5 300.9,730 301.9,729.5 302.8,729 303.8,728.3 304.7,728.8 305.7,727.7 306.7,727.4 307.6,725.8 308.6,725.6 309.6,724.7 310.6,724 311.5,723.3 312.5,722.8 313.4,723.6 314.3,724.1 315.2,724.4 316.1,724.8 317,725.5 317.9,726.3 318.9,726.4 320,727.4 321.1,728 322.2,728.8 323.3,728.9 324.4,729.6 325.3,728.3 326.2,727.7 327.2,727.2 328.1,726.6 328.8,724.7 329.6,722.9 330.3,720.4 331,718.5 331.8,717 332.5,715 333.2,712.9 334,711.2 335,710.3 335.9,709.7 336.9,709 337.8,710 338.8,710.4 339.7,711.4 340.6,711.9 341.6,714.1 342.5,716 343.5,718.5 344.2,720.4 345,722.4 345.8,723.5 346.5,725.9 347.6,726.3 348.7,726.8 349.8,727.8 350.9,727.8 352,728.2 353.1,727.4 354.2,728 355.3,727.4 356.2,727 357.1,725.6 357.9,725.1 358.8,724 359.7,723.7 360.6,722.9 361.5,721.5 362.3,720.6 363.2,719.3 364.1,717.8 365,717 365.9,716 366.7,714.8 367.6,713.2 368.5,712.6 369.4,711.5 370.3,709.7 371.1,708.7 372,708.3 372.9,706.8 373.9,705.5 374.9,704.8 375.9,704.1 376.8,704.3 377.8,702.7 378.8,702.4 379.8,701.6 380.8,702.3 381.8,701.2 382.7,701.8 383.7,701.4 384.7,700.9 385.7,700.8 386.7,700.4 387.6,699.5 388.6,699.3 389.6,697.8 390.6,697.9 391.6,698 392.6,697.4 393.5,697.4 394.5,696.5 395.5,697 396.5,697 397.4,695.7 398.4,695.7 399.4,695.7 400.4,695.9 401.4,696.3 402.3,695.8 403.3,695.8 404.3,696 405.3,696.6 406.2,696.9 407.2,696.6 408.2,696.8 409.2,697 410.2,697.4 411.2,697.7 412.2,698.2 413.1,698.1 414.1,699 415.1,699.9 416.1,699.6 417.1,700.1 418.1,700 419,698.8 420,699 421,698.7 421.9,698.1 422.9,697.5 423.8,697.8 424.8,698.1 425.7,698.6 426.6,699.3 427.5,698.7 428.4,699 429.4,700.1 430.3,700.1 431.3,701.4 432.3,701.8 433.2,702.5 434.2,703.6 435.2,703.8 436.2,705 437.3,703.4 438.4,702.4 438.5,698.8 438.6,696.1 438.8,692.6 438.9,689.3 439,686.7 439.1,683.8 439.3,679.8 439.4,677.1 439.5,673.6 439.6,670.9 439.8,667.4 439.9,664.1 441.3,661.9 442.3,661.1 443.3,660.6 444.3,660.4 445.4,660.9 446.5,662.6 446.7,659.5 447,656.4 447.2,653.1 447.5,650.3 447.7,647.2 448,644.7 448.2,641.3 449.1,642 450.1,643.5 450.6,646.7 451,648.8 451.5,651.6 451.9,654.1 452.4,656.8 452.5,660.4 452.6,663.6 452.8,666.4 452.9,669.5 453,673 453.1,675.9 454.1,674.1 455,671.5 455.9,674.3 456.8,677.4 457.9,677.3 459,676.6 459.2,680.5 459.5,683.2 459.7,686.2 459.9,689.5 460.2,693.4 460.4,696.5 461.5,698.9 462.6,700.9 463.4,703.9 464.1,706.2 464.9,708.2 465.9,708.5 466.9,709 468,709.7 469,710.2 470,711.2 471.1,711.1 472.2,710.9 473.3,710.6 474.4,709.7 475.3,709.9 476.2,711.1 477.2,710.9 478.1,711.5 479,712.3 479.9,712 480.9,712.4 481.8,713.4 482.7,714.3 483.6,714.1 484.5,714.6 485.5,715.3 486.4,715.9 487.3,715.6 488.2,716.4 489.1,717.1 490,717.5 491,718 491.9,718.1 492.8,719 493.7,719.9 494.6,719.7 495.6,720.3 496.5,720.7 497.5,720.6 498.5,721.2 499.4,722 500.4,721.7 501.4,723 502.4,722.9 503.4,722.8 504.3,721.3 505.3,721.2 506.2,721.9 507.1,721.4 508,722.1 509,722.2 509.9,721.8 510.8,722.5 511.7,722.6 512.6,722.6 513.5,723.5 514.4,723.3 515.3,724.4 516.2,725.2 517.1,725.1 518.2,725.4 519.3,725.4 520.4,725 521.5,725.6 522.4,724.9 523.3,724.1 524.1,723.8 525,723.1 525.9,722.2 526.9,722.2 527.9,721.6 528.8,722 529.8,721.9 530.8,721.2 531.8,721.5 532.8,721.3 533.7,720.3 534.7,719 535.7,719.3 536.6,717.7 537.6,717.4 538.4,715.3 539.1,713.8 539.9,711.7 540.6,709.7 541.5,709 542.4,708.4 543.2,707.4 544.1,706.5 545,706 546.1,706.2 547.2,706.6 548.3,707.9 549.4,708.2 550.4,709.7 551.4,710.7 552.4,711.9 553.1,714.4 553.8,716.3 554.8,715.9 555.8,715.5 556.8,715.4 557.8,715.3 558.8,714.4 559.8,712 560.7,711.2 561.7,709.5 562.7,708.4 563.2,705.5 563.7,701.9 564.2,698.7 564.7,695.7 564.9,692.4 565.1,689.5 565.3,686.6 565.5,683 565.7,680.4 565.9,676.4 566.1,673.4 566.3,670.1 566.5,667 566.7,664.3 566.9,661.7 567.1,658.7 567.3,655.1 567.5,652.2 567.7,649.5 567.8,647 568,644.1 568.2,641.1 568.4,638 568.6,634.9 568.7,631.3 568.8,628.5 568.9,625.1 569.1,622.3 569.2,619.2 569.3,615.6 569.4,612.6 569.5,610 569.6,606 569.7,603.8 569.9,600.7 570,597.6 570.1,593.8 570.2,590.8 571.4,591.4 572.5,591.8 573.5,592.5 574.5,593.2 575.5,593.7 576.1,597 576.7,599.4 577.2,601.7 577.8,605.2 578.4,607.5 578.5,610.6 578.7,613.8 578.8,617 579,619.2 579.1,623.2 579.3,626.1 579.4,629 579.5,632.3 579.6,635.6 579.7,638.8 579.8,641.7 580,645.4 580.1,648 580.2,651.9 580.3,655.3 580.4,658.4 580.6,661.4 580.8,664.6 580.9,668.1 581.1,671.1 581.3,673.2 581.5,677.1 581.6,679.9 581.8,682.3 582,685.9 582.1,689 582.3,692.1 582.5,695.2 582.6,699 582.8,702.7 582.9,705.5 583.6,702.7 584.2,700.7 584.9,697.6 585.4,694.9 585.9,691.3 586.4,689.3 586.9,685.9 588,685.8 589.2,685.5 590.3,686.4 591.4,686.5 592.4,686.8 593.5,686.9 594.2,689 594.8,691.8 595.5,693.7 596.3,696.9 597.2,699.4 598,701.6 598.4,704.3 598.8,707.4 599.2,709.8 599.6,712.1 600,715.3 601,715.9 602,717.2 602.9,718.5 603.9,719.6 604.9,721.2 605.9,721.7 606.9,722.5 607.8,722.9 608.8,723.3 609.8,724.1 610.8,724.2 611.7,724.9 612.7,725.5 613.7,725.8 614.7,725.3 615.7,725 616.7,725.8 617.6,725.5 618.6,725 619.6,725 620.6,725.1 621.6,724.6 622.5,724.1 623.5,723.2 624.5,722.4 625.5,722.1 626.5,722.2 627.4,720.9 628.4,720.8 629.3,720.2 630.2,719.3 631.1,718.7 632,718 632.8,717.7 633.7,716.9 634.6,716.1 635.5,715.6 636.4,715.1 637.3,714.9 638.3,715.2 639.2,715.1 640.2,715.4 641.2,716.2 642.2,716.5 643.1,717.2 644.1,717.3 645.1,717.2 646.1,718.1 647.1,718.5 648,718.5 649,720 650,719.6 651,719.9 652,720.8 653,721 654,720.9 654.9,721.7 655.9,721.6 656.9,721.5 657.8,721.7 658.8,722.7 659.8,722.7 660.8,722.7 661.8,723.6 662.7,723.5 663.7,724.3 664.7,724.1 665.7,724.5 666.6,725.1 667.6,726.1 668.6,725 669.6,724.9 670.5,723.9 671.5,722.8 672.5,722.2 673.3,720.3 674.1,719.7 674.9,718.6 675.7,716.8 676.5,715.3 677.5,713.1 678.5,711.5 679.4,709.9 680.4,708.8 681.4,708.5 682.4,708.4 683.4,708.5 684.3,709.3 685.3,709.7 686.3,709 687.3,709.4 688.3,709.5 689.2,708.4 690.2,708.3 691.2,708 692.2,707.5 693.1,705.9 694.1,705.8 695.1,705.5 696.1,705.2 697,705.2 698,703.7 699,703.5 700,703.7 701,702.4 701.9,702.3 702.9,702 703.9,701.5 704.9,701.5 705.8,701.5 706.8,700.2 707.8,700.6 708.8,700.2 709.8,700 710.7,699.3 711.7,699.4 712.7,698.6 713.7,698.1 714.7,697.9 715.7,697.3 716.6,697.7 717.6,697 718.6,696.7 719.6,695.2 720.5,693.9 721.5,693.3 722.5,691.8 723.2,690 724,688.1 724.8,685.7 725.5,683.9 726,681 726.5,677.6 727,675.4 727.5,672.2 728.5,669.8 729.4,668.6 730.4,668.4 731.4,668.6 732.3,668.4 733.3,667.6 734.3,667.6 735.3,667.8 736,670.3 736.6,672.2 737.3,674.1 738,677 738.8,679.4 739.5,681.4 740.2,683.9 741.2,686 742.1,687.4 743.1,688.8 744.1,690.2 745.1,691.9 746.1,693.7 747.1,693.5 748.1,694.1 749,695 750,694.3 751,695.1 752,695.3 753,694.3 753.9,693.8 754.9,693.9 755.9,692.9 756.8,692.2 757.8,692.2 758.8,691.7 759.8,692.2 760.8,692 761.8,691.8 762.8,688.1 763.7,685.5 764.7,685.3 765.7,686.3 766.6,685.5 767.6,685.9 768.6,686.5 769.6,686.8 770.5,687.7 771.5,688 772.5,688.7 773.5,688.8 774.5,691.3 775.5,693.7 776.5,692.6 777.5,691.9 778.4,691 779.4,690.8 780.4,690.7 781.4,689.3 782.3,688.7 783.3,689.4 784.3,687.9 785.3,687.8"/>
<polyline fill="none" stroke="#000" stroke-width="3.6" stroke-linejoin="round" points="1060.6,462 1060.7,463.9 1060.8,466.3 1061,469.9 1061.1,471.9 1061.2,475.8 1061.3,477 1061.5,480.6 1061.6,484.8 1061.7,487 1061.9,489.5 1062,491.2 1062.3,487.4 1062.6,485.6 1062.9,482.6 1063.2,484.3 1063.6,486.4 1063.9,488.5 1064.3,491.3 1064.6,494.6 1064.8,498.2 1065.1,500.1 1065.3,502.2 1065.6,504.4 1065.8,504.7 1066.1,507.3 1066.3,510.1 1066.4,512.8 1066.5,515.5 1066.5,518.2 1066.6,520.7 1066.7,520.5 1066.8,524.5 1066.9,527 1067,528.8 1067,530.1 1067.1,533.4 1067.2,535.8 1067.3,536.8 1067.4,541.9 1067.6,544 1067.7,545.3 1067.8,546.9 1067.9,551.2 1068,552.4 1068.1,555.8 1068.3,558 1068.4,559.3 1068.5,561.6 1068.7,563.7 1069,566.7 1069.2,568.6 1069.5,570.1 1069.7,573.6 1069.9,570.4 1070,569.5 1070.2,564.4 1070.3,561.8 1070.5,561.1 1070.6,557.4 1070.8,555.7 1070.9,553 1071,550.5 1071.1,547.6 1071.2,547.3 1071.3,542.3 1071.4,540.6 1071.5,537.4 1071.5,536.4 1071.6,532.8 1071.7,530.6 1071.8,529.5 1071.9,525.7 1072,523.8 1072.6,522.3 1073.2,520.4 1073.3,524 1073.4,523.8 1073.5,526 1073.6,528.9 1073.7,532.9 1073.9,534.8 1074,535.9 1074.1,538.6 1074.2,540.4 1074.3,543.6 1074.4,546.1 1074.6,547.1 1074.7,551.7 1074.9,554.8 1075,557.5 1075.2,559.3 1075.3,562.5 1075.5,562 1075.6,565.3 1075.8,568.5 1075.9,567.7 1075.9,564.7 1076,561.2 1076,560.6 1076.1,557.2 1076.1,555.5 1076.2,551.5 1076.3,548.8 1076.3,547.3 1076.4,544 1076.4,542.4 1076.5,541.9 1076.5,537.6 1076.6,535.8 1076.7,531.8 1076.8,529.6 1076.9,527.6 1077,527.2 1077.1,523.4 1077.2,520.8 1077.3,517.8 1077.4,518.3 1077.4,514.1 1077.5,511 1077.6,508.2 1077.7,505.8 1077.8,503.8 1077.9,503 1078,498.9 1078.1,496.2 1078.2,495.3 1078.3,492.9 1078.5,489.5 1078.6,489.3 1078.8,484 1078.9,482.7 1079,480.9 1079.2,477.2 1079.3,476.4 1079.5,472.3 1080.2,470.9 1080.9,469.7 1081.1,471.3 1081.4,474.3 1081.6,475.5 1081.8,479.2 1082.1,481.1 1082.3,484.3 1082.4,488 1082.5,490.3 1082.6,491.7 1082.6,492.6 1082.7,495.8 1082.8,498.2 1082.9,500.6 1083,503.1 1083.1,507.6 1083.2,507.7 1083.2,509.9 1083.3,515.2 1083.4,516.5 1083.5,518.7 1083.6,522.6 1083.6,523.1 1083.7,527.1 1083.8,528.6 1083.8,531.4 1083.9,533.7 1083.9,535.2 1084,537.6 1084.1,533.9 1084.2,531.9 1084.2,531.6 1084.3,529.3 1084.4,526.9 1084.5,522.6 1084.6,521.3 1084.6,519.3 1084.7,516.4 1084.8,514.5 1084.9,511.2 1085,509.2 1085,506.9 1085.1,503.2 1085.2,501.5 1085.8,500.3 1086.4,496.4 1086.9,500.4 1087.4,501.5 1087.5,497.7 1087.5,498.2 1087.6,495.8 1087.6,492.4 1087.7,488 1087.8,488.3 1087.8,483.5 1087.9,483.8 1087.9,480.4 1088,476 1088.1,474 1088.1,473.1 1088.2,470.5 1088.2,468.6 1088.3,466.8 1088.4,462.1 1088.4,459 1088.5,459.6 1088.5,454.2 1088.6,453.4 1088.7,457 1088.8,456.9 1088.9,461.5 1089,463.8 1089.1,466.5 1089.2,467.8 1089.2,471.3 1089.3,471.5 1089.4,475.3 1089.5,476.6 1089.6,480.8 1089.7,482.8 1089.8,484.3 1089.9,486.5 1089.9,489.1 1090,489.8 1090.1,492.2 1090.1,496.3 1090.2,498.3 1090.2,501.9 1090.3,503.4 1090.4,504.2 1090.4,507.3 1090.5,510.9 1090.6,512.5 1090.6,513.2 1090.7,518.2 1090.8,520.5 1090.8,520.4 1090.9,524.2 1090.9,526.1 1091,529.7 1091.1,530.5 1091.1,532.6 1091.2,535.8 1091.3,538.1 1091.4,542 1091.5,541.6 1091.6,544.1 1091.7,548.1 1091.8,551.3 1092,552.5 1092.1,554.6 1092.2,558.3 1092.3,560.5 1092.4,560.6 1092.5,565.5 1092.6,566.7 1092.9,563.4 1093.2,561.5 1093.4,560.9 1093.7,557.3 1094,556.2 1094.3,553 1094.4,549.6 1094.5,549.5 1094.7,545 1094.8,542.6 1094.9,541.3 1095,538.5 1095.2,536.8 1095.3,535.7 1095.4,532.7 1095.5,528.1 1095.6,526.8 1095.8,525.2 1095.9,522.7 1096,520.4 1096.2,523.7 1096.4,525.5 1096.6,526.7 1096.8,529.9 1097,534.3 1097.2,535.8 1097.4,537.8 1097.7,541.6 1097.9,544.7 1098.2,546 1098.4,548.7 1098.7,550.9 1098.9,553 1099.1,554.8 1099.3,559.2 1099.4,560.2 1099.6,564.1 1099.8,564.6 1100,568.8 1100.1,571 1100.3,572.9 1100.5,575 1100.6,577.2 1100.7,578.7 1100.8,583.2 1101,584.3 1101.1,587.7 1101.2,588.4 1101.3,592 1101.4,588.2 1101.6,585.9 1101.7,585.5 1101.8,581 1102,580.8 1102.1,576.6 1102.3,574.7 1102.4,572 1102.5,569.1 1102.6,567.6 1102.7,563.6 1102.8,562.2 1102.9,561.5 1103,556.7 1103.1,555.9 1103.2,553 1103.3,550 1103.4,547.5 1103.5,544.1 1103.6,541.7 1103.7,542.2 1103.8,539.4 1103.9,536.8 1104,534.4 1104.1,532.4 1104.2,527.4 1104.3,526.3 1104.4,523.6 1104.5,521.4 1104.6,518.7 1105.2,518.4 1105.8,515.2 1105.9,518.4 1106.1,521.5 1106.2,521.1 1106.3,525.2 1106.5,527.6 1106.6,530.2 1106.7,532.2 1106.8,535.3 1107,536 1107.1,540.3 1107.2,541 1107.4,544 1107.5,546.1 1107.6,545 1107.7,542 1107.9,538.3 1108,535.6 1108.1,533.5 1108.2,532.1 1108.3,530.9 1108.5,528.2 1108.6,524.2 1108.7,522.1 1108.9,519.5 1109.1,518.5 1109.3,514.5 1109.5,512.7 1109.6,509.1 1109.8,507.4 1110,506.2 1110.2,504.4 1110.4,501.5 1110.6,504.2 1110.9,505.6 1111.1,509.8 1111.3,511 1111.6,511.8 1111.8,515.2 1112.1,516.2 1112.3,521.4 1112.6,523.8 1112.8,526 1113.1,527.3 1113.4,528.8 1113.6,530.4 1113.9,534.1 1114.3,535.3 1114.8,537.1 1115.2,540 1115.5,543.8 1115.8,546.1 1116,548.1 1116.3,548.5 1116.6,552 1116.7,553.5 1116.7,556 1116.8,560.4 1116.8,560.3 1116.9,564.6 1116.9,566.6 1117,568.5 1117.1,572.1 1117.1,572.2 1117.2,575.4 1117.2,576.6 1117.3,580 1117.4,581.2 1117.5,583.5 1117.5,586.9 1117.6,588.8 1117.7,591.1 1117.8,596.6 1117.8,596.8 1117.9,601.2 1118,603.1 1118,605.5 1118.1,607.8 1118.2,610 1118.4,613.5 1118.5,615.8 1118.7,617.9 1118.9,620 1119.1,622.7 1119.2,625.3 1119.4,627.3 1119.6,629.7 1119.7,631.4 1119.9,634.6 1120.3,638.1 1120.8,640 1120.9,642.5 1120.9,644 1121,646.8 1121.1,650.8 1121.1,652 1121.2,654.8 1121.3,657.9 1121.3,660.8 1121.4,662.1 1121.5,664.8 1121.5,667.3 1121.6,670 1121.7,671.5 1121.7,675.8 1121.8,676.4 1121.9,681 1121.9,681.7 1122,684.2 1122.1,688.3 1122.1,690.7 1122.2,691.9 1122.3,695.1 1122.3,697.4 1122.4,700 1122.5,702.9 1122.5,704.1 1122.6,707.8 1122.6,710.6 1122.7,712.3 1122.7,715.2 1122.8,717.6 1122.8,718.7 1122.9,722.1 1122.9,724.5 1123,726.1 1123.7,725.2 1124.3,723 1125,723.1 1125.7,721.7 1126.3,724.1 1126.8,724.2 1127.4,726.1 1128.1,725.4 1128.8,724.9 1129.5,723.2 1130.2,720.9 1130.9,720.9 1131.6,720.5 1132.3,719 1132.9,719.6 1133.6,718.5 1134.3,717.4 1135,715.7 1135.7,715.7 1136.3,713.8 1137,712.2 1137.7,711 1138.4,711.2 1139,710.4 1139.7,709.5 1140.4,707.8 1141.3,708.4 1142.1,707.6 1143,707 1143.9,708.7 1144.8,709.6 1145.5,710.9 1146.1,711.8 1146.8,713.9 1147.4,713.9 1148.1,714.2 1148.8,714.1 1149.6,716.1 1150.3,716.2 1151,716.9 1151.7,717.4 1152.4,718.3 1153.1,718.2 1153.8,718.8 1154.5,719.3 1155.2,720.9 1156.1,721.5 1156.9,721.8 1157.8,720.9 1158.2,719.1 1158.5,715.5 1158.9,715.2 1159.2,712.6 1159.6,709.6 1160.2,708.7 1160.9,706.8 1161.5,707.7 1162.2,706.1 1162.9,706.7 1163.6,707 1164.3,706.1 1165,708 1165.7,707.8 1166.5,706.4 1167.4,706.9 1168.2,705.7 1169.1,706.1 1169.4,703.6 1169.8,702.6 1170.2,700.1 1170.5,697.4 1170.9,700.2 1171.2,701.1 1171.6,703.4 1171.9,706 1172.3,707.8 1173,708.8 1173.6,711.7 1174.3,713.9 1174.8,712.9 1175.2,710.4 1175.6,708.5 1176.1,705.7 1176.8,705.7 1177.5,707 1178.2,707.6 1178.9,707.8 1179.6,707.8 1180.2,709.4 1180.9,710.6 1181.5,712 1182.2,714.8 1182.8,717.6 1183.3,719.7 1183.9,720.2 1184.4,722.6 1184.9,721 1185.5,718 1186,716.4 1186.5,713.9 1187.2,715.5 1187.8,715.3 1188.4,716.8 1189.1,717.4 1189.8,715.3 1190.4,714.4 1191,711.8 1191.7,711.3 1192.6,709.9 1193.4,709.1 1194.3,708.7 1195,710.3 1195.7,709.2 1196.3,711.2 1197,711.3 1197.7,711.6 1198.4,714.8 1199,714.2 1199.7,715.3 1200.4,717.4 1201.1,718.5 1201.7,721.8 1202.3,722.9 1203,724.3 1203.7,726.3 1204.3,726.5 1205,726.8 1205.7,728.7 1206.5,727.7 1207.4,727.3 1208.2,727.8 1209.1,726.1 1209.8,725 1210.6,724.8 1211.3,725.7 1212.1,723.8 1212.8,725.3 1213.6,723.4 1214.3,723.5 1215,721.9 1215.7,720.4 1216.3,719.1 1217,716.5 1217.7,715.4 1218.4,717 1219.2,715.4 1219.9,716.4 1220.6,714.8 1221.3,715.7 1222,717.1 1222.7,716.7 1223.4,717.6 1224.1,718.1 1224.8,720 1225.5,720.1 1226.2,720.7 1226.9,722.6 1227.6,722.3 1228.3,722.6 1229,721.3 1229.7,721.6 1230.3,718.8 1231,717.8 1231.7,717.4 1232.4,717.2 1233.1,716 1233.8,714.1 1234.5,713.6 1235.2,711.3 1235.8,709.3 1236.5,710 1237.2,708.5 1237.8,707 1238.5,708.4 1239.1,709.9 1239.8,709.4 1240.4,711.3 1241.1,711.7 1241.8,712.6 1242.5,714.4 1243.2,715.6 1243.9,716.5 1244.6,717.6 1245.3,718.3 1246,720.2 1246.7,721.4 1247.4,721.7 1248.1,721.3 1248.8,718.8 1249.5,718.1 1250.2,717.2 1250.9,716.9 1251.8,716 1252.6,716.5 1253.5,715.3 1254.3,715.7 1255,715.6 1255.7,714.6 1256.4,714.3 1257.1,714.7 1257.8,713.9 1258.5,715.6 1259.2,714.6 1259.9,715.7 1260.6,717.8 1261.3,717.4 1262,717.4 1262.8,717.6 1263.5,718.6 1264.3,720.6 1265,721 1265.8,722.1 1266.5,721.7 1267.2,722.1 1267.9,721.4 1268.6,722.4 1269.3,723.6 1270,723.5 1270.7,722.7 1271.4,721.7 1272.1,721.7 1272.8,721.3 1273.5,720.9 1274.2,720.9 1274.9,721.5 1275.6,721.1 1276.3,721.2 1277,722.6 1277.7,722.7 1278.5,722.1 1279.2,720.9 1280,719.8 1280.7,719.7 1281.5,719.7 1282.2,719.1 1282.9,720.7 1283.7,720.5 1284.4,722.4 1285.2,722.1 1285.9,722.1 1286.7,723.8 1287.4,724.3 1288.1,723.6 1288.8,722.7 1289.5,722 1290.2,719.6 1290.9,719.7 1291.6,719.6 1292.4,720.5 1293.1,719.2 1293.9,719 1294.6,719.4 1295.4,719.7 1296.1,720.3 1296.8,719.4 1297.5,718.4 1298.2,718.3 1299,716.5 1299.7,716.1 1300.4,715.7 1301.1,717 1301.9,717.5 1302.6,719.3 1303.3,720.1 1304.1,719.5 1304.8,720.9 1305.5,720.7 1306.3,721.2 1307,721.3 1307.8,721.1 1308.5,722.3 1309.3,720.9 1310,721.7 1310.7,721.3 1311.4,720.2 1312.1,721.6 1312.8,720.7 1313.5,721.2 1314.2,719.1 1314.9,720 1315.6,719.4 1316.3,717.9 1317,718.6 1317.7,719.5 1318.4,719.9 1319.2,718.4 1319.9,720.5 1320.6,720.4 1321.3,720 1322,720.4 1322.8,720.4 1323.5,719.9 1324.2,719.6 1325,720.7 1325.7,720.9 1326.4,722.6 1327.1,722 1327.7,723.4 1328.4,723.9 1329.1,725.2 1329.8,726.5 1330.5,728 1331.2,728.7 1331.9,728.3 1332.6,729.6 1333.3,728.5 1334,726.7 1334.7,727 1335.4,726.9 1336.1,725.2 1336.7,727.7 1337.2,727.7 1337.8,730.4 1338.5,729 1339.2,727 1339.9,726.6 1340.6,726.4 1341.3,724.3 1342,723.5 1342.7,724.4 1343.4,724.3 1344.1,723.6 1344.8,722.6 1345.5,722.1 1346.3,723.8 1347,723.9 1347.8,724.2 1348.5,722.2 1349.3,722.3 1350,723.5 1350.7,723.4 1351.4,724.2 1352.1,724.4 1352.8,724 1353.5,725.2 1354.2,726 1355,726.6 1355.7,727 1356.5,727.2 1357.2,727.8 1358,728.6 1358.7,728.7 1359.4,728 1360.1,729.1 1360.8,728.7 1361.5,728.9 1362.2,730.6 1362.9,729.9 1363.6,730.2 1364.3,730.3 1365,731.2 1365.7,731.3 1366.5,729.8 1367.4,730.3 1368.2,728.4 1369.1,728.7 1370,728.4 1370.9,726.1 1371.6,725.1 1372.4,726.2 1373.1,725.4 1373.9,724.9 1374.6,724.4 1375.4,724.2 1376.1,724.3 1376.8,724.1 1377.6,722.9 1378.3,722.2 1379.1,720.8 1379.8,720.9 1380.6,719.1 1381.3,719.1 1382,718.9 1382.7,719.1 1383.4,718.7 1384.1,718.6 1384.8,718.3 1385.5,717.4 1386.1,715.5 1386.8,716 1387.4,714.4 1388,713.4 1388.7,712.8 1389.3,710.6 1390,709.6 1390.7,710 1391.5,710.7 1392.2,711.4 1393,712.1 1393.7,712.9 1394.5,713.4 1395.2,714.8 1395.9,715.6 1396.6,716.1 1397.3,717.1 1397.9,718.6 1398.6,718.7 1399.3,720.7 1400,720.8 1400.7,722.8 1401.5,723 1402.2,725.4 1403,725.3 1403.7,727.3 1404.4,727.2 1405.2,729.9 1405.9,728.5 1406.7,729.2 1407.4,731 1408.1,731.4 1408.9,729.2 1409.6,730.3 1410.4,729.7 1411.1,729.2 1411.8,728.7 1412.6,728.8 1413.3,730.5 1414.1,729.4 1414.8,729.7 1415.4,728.1 1416.1,727.5 1416.7,727.2 1417.3,725.2 1418,723.7 1418.6,723.6 1419.4,724 1420.2,722.2 1421,721.8 1421.7,721.4 1422.5,723.3 1423.3,721.8 1424.1,721.7 1424.8,722 1425.6,721.5 1426.3,722.2 1427.1,720.6 1427.8,720.8 1428.5,722.1 1429.2,724.5 1429.9,724.6 1430.6,727.3 1431.3,726.1 1432,726 1432.7,724.7 1433.4,723.6 1434.1,723.2 1434.9,723.8 1435.6,722.3 1436.4,722.6 1437.1,721.7 1437.8,721.3 1438.6,720.4 1439.3,720.9 1440.1,720.3 1440.8,720.8 1441.5,719 1442.3,718.8 1443,717.8 1443.8,717.7 1444.5,717.1 1445.2,718.5 1446,719.5 1446.7,720.7 1447.5,720.4 1448.2,721.7 1448.9,722.5 1449.6,723.5 1450.3,722.9 1451,724.5 1451.7,723.2 1452.4,725.5 1453.1,725.9 1453.8,725.5 1454.6,727.1 1455.3,727.3 1456.1,727.5 1456.9,727.4 1457.6,728.6 1458.4,728.6 1459.1,728.3 1459.7,726.5 1460.4,725.5 1461.1,725.1 1461.8,722.6 1462.4,721.6 1463.1,720.8 1463.9,719.2 1464.6,720.4 1465.4,719.2 1466.2,718.7 1466.9,717.1 1467.7,717.1 1468.4,715.7 1469.2,715.6 1469.9,715.7 1470.7,713.8 1471.4,713.4 1472.2,714 1473,714.8 1473.8,716.5 1474.5,715.6 1475.3,718 1476.1,718 1476.8,717.7 1477.6,719.9 1478.3,720.8 1479.1,720.9 1479.8,721.7 1480.5,723.3 1481.1,723.4 1481.8,724.2 1482.4,725.8 1483,726.7 1483.7,728.8 1484.3,729.5 1485,730.5 1485.7,730 1486.4,729.9 1487,728.6 1487.7,727.8 1488.4,727.4 1489.1,725.5 1489.9,726 1490.7,725.1 1491.5,723.8 1492.2,723.7 1493,723.8 1493.8,723.4 1494.6,722.3 1495.3,723 1496,722.6 1496.7,722.3 1497.4,721.2 1498.1,721.9 1498.8,720.8 1499.5,721.7 1500.2,721.2 1500.9,720 1501.7,719.3 1502.4,720.9 1503.2,720.3 1503.9,719 1504.6,718.9 1505.3,718.7 1506,720.7 1506.7,720.9 1507.4,719.9 1508.1,721.7 1508.8,722.1 1509.5,721.7 1510.2,722.7 1510.9,722.8 1511.6,723.2 1512.2,724 1512.9,725.6 1513.6,727.1 1514.3,727.7 1515,728.2 1515.7,727.9 1516.4,729.4 1517.1,728.1 1517.8,729.6 1518.5,728.9 1519.2,728.8 1519.9,729.5 1520.6,730.5 1521.3,730.9 1522,729.3 1522.7,728.6 1523.4,729.3 1524.1,728.7 1524.8,728.9 1525.5,728.7 1526.2,728.2 1526.9,727.7 1527.7,727.3 1528.4,725.1 1529.2,724.8 1529.9,723.6 1530.6,722.9 1531.4,723.2 1532.1,723 1532.9,724.8 1533.6,723.7 1534.3,724.6 1535.1,725.1 1535.8,724.1 1536.6,723.8 1537.3,724.5 1538,724.3 1538.7,725.2 1539.4,725.3 1540.1,725 1540.8,727 1541.5,726.9 1542.2,727.8 1542.9,727.3 1543.7,727.6 1544.4,726.9 1545.2,726.6 1546,725.9 1546.7,724.8 1547.5,724.5 1548.2,725.8 1548.9,726.6 1549.7,725.4 1550.4,726 1551.1,726.7 1551.8,727.9 1552.6,729.3 1553.3,729.2 1554,729.7 1554.8,730.7 1555.5,729.8 1556.3,730.5 1557.1,730 1557.8,731.1 1558.6,731 1559.3,729.7 1559.9,728.3 1560.6,728.4 1561.3,728 1562,727.9 1562.6,725.8 1563.3,725.5 1564,726.3 1564.8,726 1565.5,724.4 1566.3,725.7 1567,726 1567.7,725.9 1568.5,725.2 1569.2,724.5 1570,724.7 1570.7,724.5 1571.4,725.6 1572.2,726.2 1572.9,726 1573.7,728.3 1574.4,728.2 1575.1,727.7 1575.8,726.1 1576.5,726 1577.2,725 1577.9,725.2 1578.6,723.9 1579.3,724.2 1580,723.6 1580.8,723.4 1581.6,724.9 1582.4,725 1583.1,724 1583.9,725.6 1584.7,725.4 1585.5,725.5 1586.2,725.2 1587,726.8 1587.7,725 1588.5,726 1589.2,726.4 1589.9,727.4 1590.5,727.2 1591.2,728.7 1591.9,730.4 1592.6,730 1593.2,731.6 1593.9,731.9 1594.6,730.3 1595.3,731.1 1596.1,730.2 1596.8,727.5 1597.5,727.9 1598.2,726 1599,724.4 1599.7,723.9 1600.4,723.6 1601.2,724 1602,723.3 1602.8,723.3 1603.5,722.3 1604.3,722.2 1605.1,722.5 1605.9,722.7 1606.6,723.1 1607.3,724.1 1608,723.6 1608.7,723.7 1609.4,725.4 1610.1,725.2 1610.8,725.7 1611.5,725.5 1612.2,727.3 1612.9,727.8 1613.6,728.4 1614.3,730.1 1615.1,728.5 1615.8,728.9 1616.6,728.3 1617.4,727.9 1618.1,727.2 1618.9,725.5 1619.6,725.5 1620.4,725.5 1621.1,726.5 1621.9,724.6 1622.6,725.2 1623.3,725.6 1624.1,725.7 1624.8,725.7 1625.6,724.7 1626.3,725.5 1627,725.4 1627.8,724.5 1628.5,724.9 1629.3,724.3 1630,724.5 1630.8,725 1631.5,724.4 1632.3,723.7 1633,724.3 1633.8,724.2 1634.5,724.8 1635.3,724.2 1636,724.4 1636.8,724.9 1637.5,725.7 1638.2,724.5 1639,726.1 1639.7,725 1640.5,727 1641.2,726.4 1641.9,725.3 1642.7,726.2 1643.4,724 1644.2,724.5 1644.9,723.5 1645.6,724.2 1646.4,723.7 1647.1,721.8 1647.9,721.2 1648.6,721.7 1649.3,722.5 1650.1,722.1 1650.8,722.3 1651.6,722.5 1652.3,722.8 1653,723.5 1653.8,723.4 1654.5,723.1 1655.3,724.2 1656,724.5 1656.7,725.8 1657.4,725.6 1658.1,725.7 1658.8,726.4 1659.5,725.6 1660.2,725.6 1660.9,726.8 1661.6,726.4 1662.3,725 1663,726 1663.7,724.1 1664.4,724.6 1665.1,723.9 1665.8,723.9 1666.5,721.9 1667.2,722.3 1667.9,722.4 1668.7,722.5 1669.4,720.6 1670.2,721.7 1670.9,720.6 1671.6,721.4 1672.4,721.7 1673.1,719.3 1673.9,719.9 1674.6,719.9 1675.3,719.9 1676.1,721 1676.8,720.8 1677.6,718.9 1678.3,719.1 1679,719.7 1679.8,720.6 1680.5,720.5 1681.3,720 1682,719.9 1682.7,720.8 1683.4,720.6 1684.2,720.7 1684.9,720.2 1685.6,719.4 1686.3,720.4 1687.1,720.4 1687.8,720.8 1688.5,719.9 1689.2,720.1 1690,720.7 1690.7,722.3 1691.5,723 1692.2,724.5 1692.9,723.6 1693.6,722.1 1694.3,722.6 1695,721.7 1695.7,722 1696.4,722.1 1697.1,722.2 1697.8,723.8 1698.5,723.2 1699.2,725.3 1699.9,724.5 1700.6,725.5"/>
<line x1="186.8" y1="366.7" x2="186.8" y2="74" stroke="#e1000f" stroke-width="5.1" stroke-dasharray="5.1 5.1"/>
<line x1="186.8" y1="735.8" x2="186.8" y2="444.3" stroke="#e1000f" stroke-width="5.1" stroke-dasharray="5.1 5.1"/>
<line x1="1109.3" y1="366.6" x2="1109.3" y2="74" stroke="#e1000f" stroke-width="5.1" stroke-dasharray="5.1 5.1"/>
<line x1="1109.3" y1="736.2" x2="1109.3" y2="444.3" stroke="#e1000f" stroke-width="5.1" stroke-dasharray="5.1 5.1"/>
<path d="M112 73.8V370.1H805" fill="none" stroke="#000" stroke-width="1.55" stroke-linecap="square"/>
<line x1="104" y1="362" x2="112" y2="362" stroke="#000" stroke-width="1.3"/>
<line x1="104" y1="283.7" x2="112" y2="283.7" stroke="#000" stroke-width="1.3"/>
<line x1="104" y1="205.4" x2="112" y2="205.4" stroke="#000" stroke-width="1.3"/>
<line x1="104" y1="127.1" x2="112" y2="127.1" stroke="#000" stroke-width="1.3"/>
<line x1="186.8" y1="370.1" x2="186.8" y2="378.3" stroke="#000" stroke-width="1.3"/>
<line x1="383.2" y1="370.1" x2="383.2" y2="378.3" stroke="#000" stroke-width="1.3"/>
<line x1="579.5" y1="370.1" x2="579.5" y2="378.3" stroke="#000" stroke-width="1.3"/>
<line x1="776" y1="370.1" x2="776" y2="378.3" stroke="#000" stroke-width="1.3"/>
<path d="M112 444.3V740.8H805" fill="none" stroke="#000" stroke-width="1.55" stroke-linecap="square"/>
<line x1="104" y1="732" x2="112" y2="732" stroke="#000" stroke-width="1.3"/>
<line x1="104" y1="673.3" x2="112" y2="673.3" stroke="#000" stroke-width="1.3"/>
<line x1="104" y1="614.5" x2="112" y2="614.5" stroke="#000" stroke-width="1.3"/>
<line x1="104" y1="555.8" x2="112" y2="555.8" stroke="#000" stroke-width="1.3"/>
<line x1="104" y1="497.1" x2="112" y2="497.1" stroke="#000" stroke-width="1.3"/>
<line x1="186.8" y1="740.8" x2="186.8" y2="749" stroke="#000" stroke-width="1.3"/>
<line x1="383.2" y1="740.8" x2="383.2" y2="749" stroke="#000" stroke-width="1.3"/>
<line x1="579.5" y1="740.8" x2="579.5" y2="749" stroke="#000" stroke-width="1.3"/>
<line x1="776" y1="740.8" x2="776" y2="749" stroke="#000" stroke-width="1.3"/>
<path d="M1028.8 73.8V370.1H1720" fill="none" stroke="#000" stroke-width="1.55" stroke-linecap="square"/>
<line x1="1020.8" y1="362.2" x2="1028.8" y2="362.2" stroke="#000" stroke-width="1.3"/>
<line x1="1020.8" y1="286" x2="1028.8" y2="286" stroke="#000" stroke-width="1.3"/>
<line x1="1020.8" y1="209.9" x2="1028.8" y2="209.9" stroke="#000" stroke-width="1.3"/>
<line x1="1020.8" y1="133.7" x2="1028.8" y2="133.7" stroke="#000" stroke-width="1.3"/>
<line x1="1048.2" y1="370.1" x2="1048.2" y2="378.3" stroke="#000" stroke-width="1.3"/>
<line x1="1109.6" y1="370.1" x2="1109.6" y2="378.3" stroke="#000" stroke-width="1.3"/>
<line x1="1226.8" y1="370.1" x2="1226.8" y2="378.3" stroke="#000" stroke-width="1.3"/>
<line x1="1405.3" y1="370.1" x2="1405.3" y2="378.3" stroke="#000" stroke-width="1.3"/>
<line x1="1584" y1="370.1" x2="1584" y2="378.3" stroke="#000" stroke-width="1.3"/>
<path d="M1028.8 444.3V740.8H1720" fill="none" stroke="#000" stroke-width="1.55" stroke-linecap="square"/>
<line x1="1020.8" y1="709" x2="1028.8" y2="709" stroke="#000" stroke-width="1.3"/>
<line x1="1020.8" y1="650.2" x2="1028.8" y2="650.2" stroke="#000" stroke-width="1.3"/>
<line x1="1020.8" y1="591.4" x2="1028.8" y2="591.4" stroke="#000" stroke-width="1.3"/>
<line x1="1020.8" y1="532.6" x2="1028.8" y2="532.6" stroke="#000" stroke-width="1.3"/>
<line x1="1020.8" y1="473.8" x2="1028.8" y2="473.8" stroke="#000" stroke-width="1.3"/>
<line x1="1048.2" y1="740.8" x2="1048.2" y2="749" stroke="#000" stroke-width="1.3"/>
<line x1="1109.6" y1="740.8" x2="1109.6" y2="749" stroke="#000" stroke-width="1.3"/>
<line x1="1226.8" y1="740.8" x2="1226.8" y2="749" stroke="#000" stroke-width="1.3"/>
<line x1="1405.3" y1="740.8" x2="1405.3" y2="749" stroke="#000" stroke-width="1.3"/>
<line x1="1584" y1="740.8" x2="1584" y2="749" stroke="#000" stroke-width="1.3"/>
<text x="94.4" y="370.3" font-size="23.8" text-anchor="end" fill="#000">0.0</text>
<text x="94.4" y="292" font-size="23.8" text-anchor="end" fill="#000">0.1</text>
<text x="94.4" y="213.7" font-size="23.8" text-anchor="end" fill="#000">0.2</text>
<text x="94.4" y="135.4" font-size="23.8" text-anchor="end" fill="#000">0.3</text>
<text x="98.2" y="740.3" font-size="23.8" text-anchor="end" fill="#000">0.0</text>
<text x="98.2" y="681.6" font-size="23.8" text-anchor="end" fill="#000">2.5</text>
<text x="98.2" y="622.8" font-size="23.8" text-anchor="end" fill="#000">5.0</text>
<text x="98.2" y="564.1" font-size="23.8" text-anchor="end" fill="#000">7.5</text>
<text x="98.2" y="505.4" font-size="23.8" text-anchor="end" fill="#000">10</text>
<text x="1011.6" y="370.5" font-size="23.8" text-anchor="end" fill="#000">0.0</text>
<text x="1011.6" y="294.3" font-size="23.8" text-anchor="end" fill="#000">0.1</text>
<text x="1011.6" y="218.2" font-size="23.8" text-anchor="end" fill="#000">0.2</text>
<text x="1011.6" y="142" font-size="23.8" text-anchor="end" fill="#000">0.3</text>
<text x="1011.6" y="717.3" font-size="23.8" text-anchor="end" fill="#000">0.02</text>
<text x="1011.6" y="658.5" font-size="23.8" text-anchor="end" fill="#000">0.04</text>
<text x="1011.6" y="599.7" font-size="23.8" text-anchor="end" fill="#000">0.06</text>
<text x="1011.6" y="540.9" font-size="23.8" text-anchor="end" fill="#000">0.08</text>
<text x="1011.6" y="482.1" font-size="23.8" text-anchor="end" fill="#000">0.10</text>
<text x="188.9" y="402.9" font-size="23.8" text-anchor="middle" fill="#000">2010-05-22</text>
<text x="380" y="402.9" font-size="23.8" text-anchor="middle" fill="#000">2014-05-21</text>
<text x="573.6" y="402.9" font-size="23.8" text-anchor="middle" fill="#000">2018-05-20</text>
<text x="766" y="402.9" font-size="23.8" text-anchor="middle" fill="#000">2022-05-19</text>
<text x="188.9" y="773.6" font-size="23.8" text-anchor="middle" fill="#000">2010-05-22</text>
<text x="380" y="773.6" font-size="23.8" text-anchor="middle" fill="#000">2014-05-21</text>
<text x="573.6" y="773.6" font-size="23.8" text-anchor="middle" fill="#000">2018-05-20</text>
<text x="766" y="773.6" font-size="23.8" text-anchor="middle" fill="#000">2022-05-19</text>
<text x="1047.6" y="402.7" font-size="23.8" text-anchor="middle" fill="#000">0</text>
<text x="1108" y="402.7" font-size="23.8" text-anchor="middle" fill="#000">200</text>
<text x="1225.7" y="402.7" font-size="23.8" text-anchor="middle" fill="#000">500</text>
<text x="1404.6" y="402.7" font-size="23.8" text-anchor="middle" fill="#000">1000</text>
<text x="1579.5" y="402.7" font-size="23.8" text-anchor="middle" fill="#000">1500</text>
<text x="1047.6" y="770.8" font-size="23.8" text-anchor="middle" fill="#000">0</text>
<text x="1108" y="770.8" font-size="23.8" text-anchor="middle" fill="#000">200</text>
<text x="1225.7" y="770.8" font-size="23.8" text-anchor="middle" fill="#000">500</text>
<text x="1404.6" y="770.8" font-size="23.8" text-anchor="middle" fill="#000">1000</text>
<text x="1579.5" y="770.8" font-size="23.8" text-anchor="middle" fill="#000">1500</text>
<rect x="122.9" y="377.7" width="131.9" height="34.4" fill="none" stroke="#e1000f" stroke-width="3.2"/>
<rect x="122.7" y="747.8" width="132.2" height="34.2" fill="none" stroke="#e1000f" stroke-width="3.2"/>
<rect x="1082.6" y="380.7" width="50.6" height="29.2" fill="none" stroke="#e1000f" stroke-width="3.2"/>
<rect x="1083.3" y="748.6" width="49.8" height="28.1" fill="none" stroke="#e1000f" stroke-width="3.2"/>
<text x="3" y="25.7" font-size="30" text-anchor="start" fill="#000">a)</text>
<text x="916" y="25.7" font-size="30" text-anchor="start" fill="#000">b)</text>
<text x="459.8" y="53.2" font-size="27.2" text-anchor="middle" fill="#000">Blockchain</text>
<text x="1375.9" y="53.3" font-size="27.2" text-anchor="middle" fill="#000">Simulation</text>
<text x="0" y="0" font-size="23.8" text-anchor="middle" transform="translate(42.1 239.2) rotate(-90)">Local Entropy</text>
<text x="0" y="0" font-size="23.8" text-anchor="middle" transform="translate(42.5 602.8) rotate(-90)">M.A. Local Entropy</text>
<text x="0" y="0" font-size="23.8" text-anchor="middle" transform="translate(956.6 239.2) rotate(-90)">Local Entropy</text>
<text x="0" y="0" font-size="23.8" text-anchor="middle" transform="translate(951.8 598.1) rotate(-90)">M.A. Local Entropy</text>
<text x="458.1" y="805.6" font-size="23.8" text-anchor="middle" fill="#000">Date</text>
<text x="1379.6" y="806.1" font-size="23.8" text-anchor="middle" fill="#000">Time Step</text>
<text x="188.4" y="806.6" font-size="23.8" text-anchor="middle" fill="#b5121b">Bitcoin Pizza Day</text>
<line x1="204.6" y1="548.2" x2="234.2" y2="548.2" stroke="#000" stroke-width="2.6"/>
<polygon points="193.4,548.2 205.6,541.2 205.6,555.2" fill="#000"/>
<text x="241.5" y="555.5" font-size="23.8" text-anchor="start" fill="#000">first real world transaction</text>
<line x1="1130.3" y1="522.9" x2="1159.7" y2="522.9" stroke="#000" stroke-width="2.6"/>
<polygon points="1118.8,522.9 1131.3,515.9 1131.3,529.9" fill="#000"/>
<text x="1167.3" y="530" font-size="23.8" text-anchor="start" fill="#000">temperature collapse</text>
</svg>
</body></html>
